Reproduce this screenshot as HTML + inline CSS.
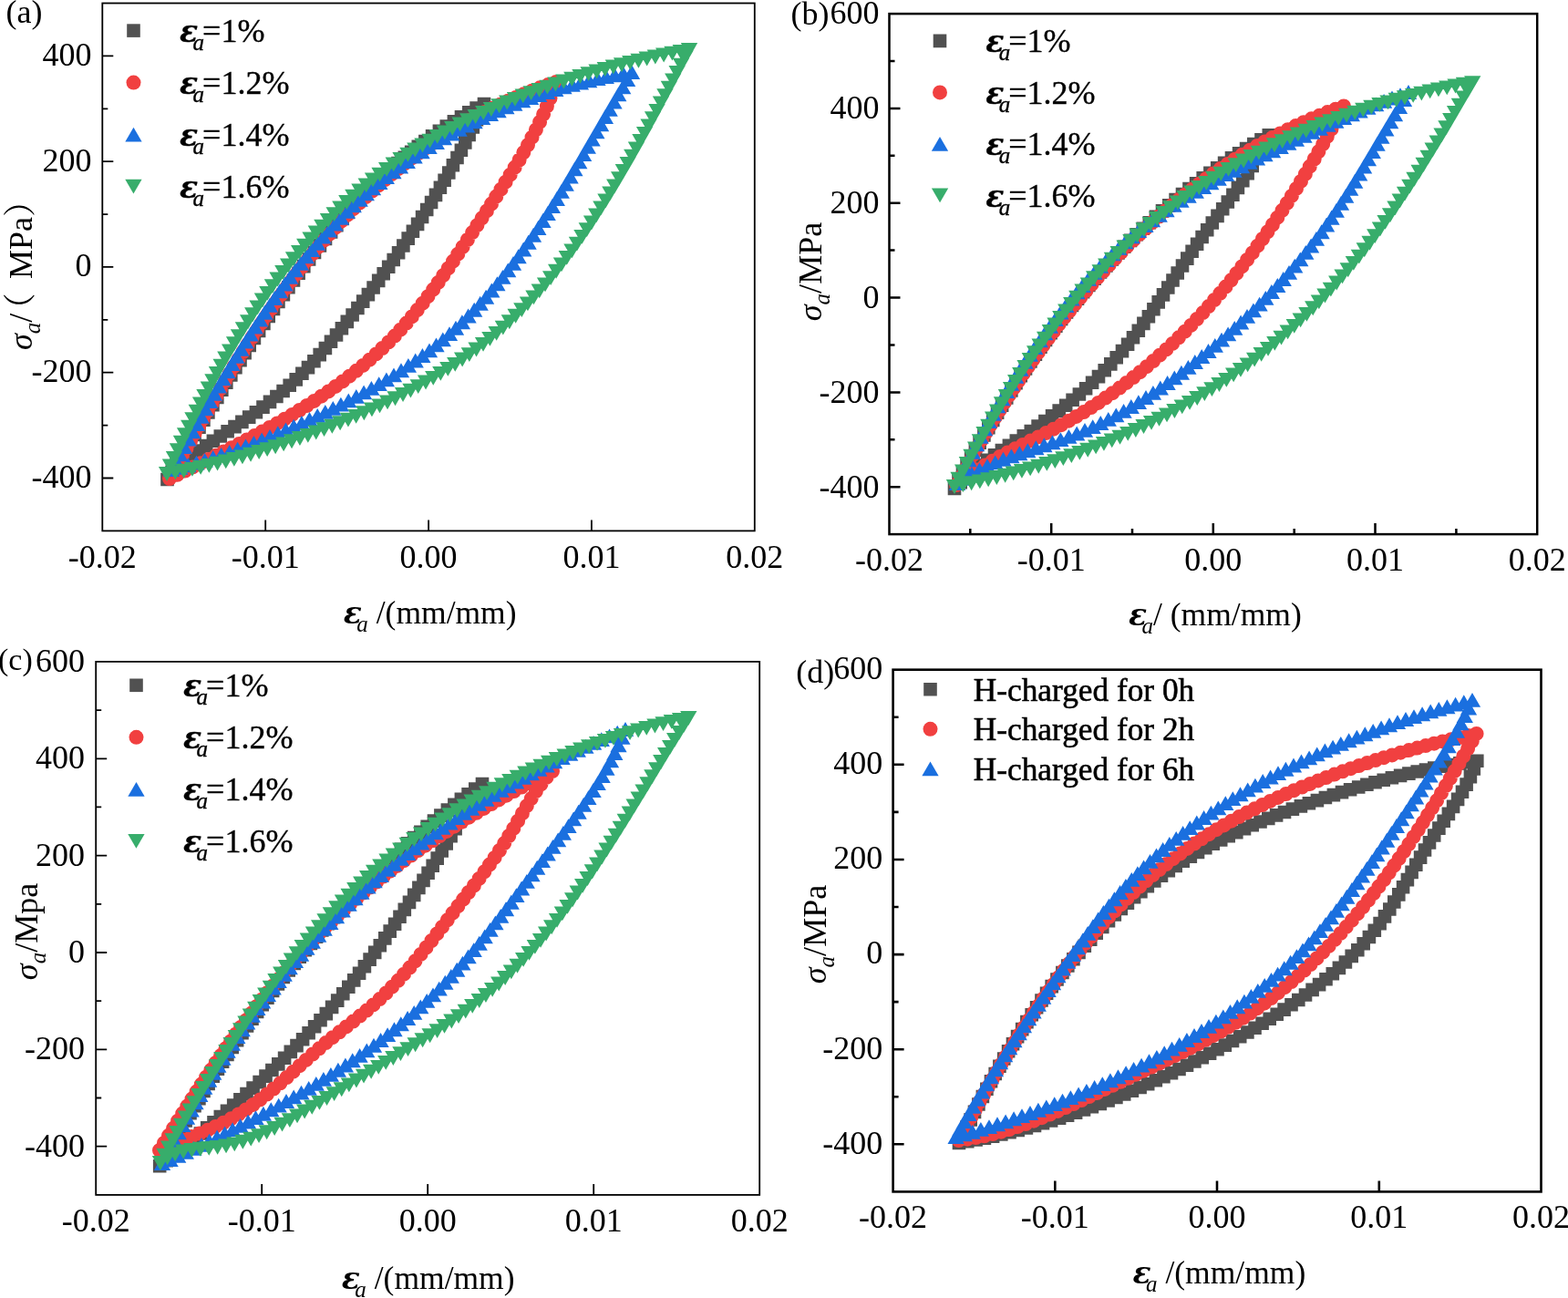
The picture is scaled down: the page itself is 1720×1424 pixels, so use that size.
<!DOCTYPE html>
<html><head><meta charset="utf-8"><title>Hysteresis loops</title>
<style>html,body{margin:0;padding:0;background:#fff;overflow:hidden}svg{display:block}</style></head>
<body>
<svg xmlns="http://www.w3.org/2000/svg" width="1720" height="1424" viewBox="0 0 1720 1424"><defs><clipPath id="clipa"><rect x="112.3" y="3.5" width="715.5" height="578.9"/></clipPath><clipPath id="clipb"><rect x="975.5" y="15.1" width="710.7" height="571.0"/></clipPath><clipPath id="clipc"><rect x="105.2" y="725.9" width="728.0" height="585.0000000000001"/></clipPath><clipPath id="clipd"><rect x="979.6" y="734.7" width="710.9" height="572.7"/></clipPath></defs>
<rect width="1720" height="1424" fill="#fff"/>
<g clip-path="url(#clipa)">
<path d="M176.2 518.7h14.6v14.6h-14.6zM181.3 510.6h14.6v14.6h-14.6zM186.3 502.4h14.6v14.6h-14.6zM191.3 494.2h14.6v14.6h-14.6zM196.3 486.0h14.6v14.6h-14.6zM201.2 477.8h14.6v14.6h-14.6zM206.2 469.7h14.6v14.6h-14.6zM211.2 461.5h14.6v14.6h-14.6zM216.1 453.3h14.6v14.6h-14.6zM221.1 445.1h14.6v14.6h-14.6zM226.1 436.9h14.6v14.6h-14.6zM231.0 428.7h14.6v14.6h-14.6zM236.0 420.5h14.6v14.6h-14.6zM241.0 412.3h14.6v14.6h-14.6zM246.0 404.2h14.6v14.6h-14.6zM251.1 396.0h14.6v14.6h-14.6zM256.2 387.9h14.6v14.6h-14.6zM261.3 379.8h14.6v14.6h-14.6zM266.4 371.7h14.6v14.6h-14.6zM271.6 363.6h14.6v14.6h-14.6zM276.8 355.6h14.6v14.6h-14.6zM282.1 347.6h14.6v14.6h-14.6zM287.4 339.6h14.6v14.6h-14.6zM292.7 331.6h14.6v14.6h-14.6zM298.1 323.7h14.6v14.6h-14.6zM303.6 315.9h14.6v14.6h-14.6zM309.1 308.0h14.6v14.6h-14.6zM314.7 300.2h14.6v14.6h-14.6zM320.3 292.5h14.6v14.6h-14.6zM326.0 284.8h14.6v14.6h-14.6zM331.8 277.2h14.6v14.6h-14.6zM337.7 269.6h14.6v14.6h-14.6zM343.6 262.1h14.6v14.6h-14.6zM349.7 254.6h14.6v14.6h-14.6zM355.8 247.2h14.6v14.6h-14.6zM362.0 239.9h14.6v14.6h-14.6zM368.3 232.7h14.6v14.6h-14.6zM374.6 225.6h14.6v14.6h-14.6zM381.1 218.5h14.6v14.6h-14.6zM387.7 211.5h14.6v14.6h-14.6zM394.4 204.6h14.6v14.6h-14.6zM401.1 197.9h14.6v14.6h-14.6zM408.0 191.2h14.6v14.6h-14.6zM415.0 184.6h14.6v14.6h-14.6zM422.1 178.2h14.6v14.6h-14.6zM429.2 171.8h14.6v14.6h-14.6zM436.5 165.6h14.6v14.6h-14.6zM443.9 159.5h14.6v14.6h-14.6zM451.5 153.6h14.6v14.6h-14.6zM459.1 147.8h14.6v14.6h-14.6zM466.8 142.1h14.6v14.6h-14.6zM474.6 136.6h14.6v14.6h-14.6zM482.5 131.2h14.6v14.6h-14.6zM490.6 126.0h14.6v14.6h-14.6zM498.7 120.9h14.6v14.6h-14.6zM507.0 116.0h14.6v14.6h-14.6zM515.3 111.3h14.6v14.6h-14.6zM523.7 106.7h14.6v14.6h-14.6zM523.7 106.7h14.6v14.6h-14.6zM519.7 115.3h14.6v14.6h-14.6zM515.7 123.8h14.6v14.6h-14.6zM511.5 132.2h14.6v14.6h-14.6zM507.3 140.7h14.6v14.6h-14.6zM503.0 149.1h14.6v14.6h-14.6zM498.6 157.4h14.6v14.6h-14.6zM494.2 165.7h14.6v14.6h-14.6zM489.6 174.0h14.6v14.6h-14.6zM485.0 182.2h14.6v14.6h-14.6zM480.3 190.4h14.6v14.6h-14.6zM475.6 198.5h14.6v14.6h-14.6zM470.7 206.6h14.6v14.6h-14.6zM465.8 214.7h14.6v14.6h-14.6zM460.9 222.7h14.6v14.6h-14.6zM455.8 230.7h14.6v14.6h-14.6zM450.8 238.6h14.6v14.6h-14.6zM445.6 246.5h14.6v14.6h-14.6zM440.4 254.3h14.6v14.6h-14.6zM435.1 262.2h14.6v14.6h-14.6zM429.8 269.9h14.6v14.6h-14.6zM424.4 277.7h14.6v14.6h-14.6zM418.9 285.4h14.6v14.6h-14.6zM413.4 293.0h14.6v14.6h-14.6zM407.9 300.6h14.6v14.6h-14.6zM402.3 308.2h14.6v14.6h-14.6zM396.6 315.8h14.6v14.6h-14.6zM390.9 323.3h14.6v14.6h-14.6zM385.1 330.7h14.6v14.6h-14.6zM379.3 338.2h14.6v14.6h-14.6zM373.5 345.6h14.6v14.6h-14.6zM367.6 352.9h14.6v14.6h-14.6zM361.7 360.2h14.6v14.6h-14.6zM355.7 367.5h14.6v14.6h-14.6zM349.6 374.7h14.6v14.6h-14.6zM343.4 381.8h14.6v14.6h-14.6zM337.1 388.9h14.6v14.6h-14.6zM330.7 395.8h14.6v14.6h-14.6zM324.1 402.5h14.6v14.6h-14.6zM317.4 409.1h14.6v14.6h-14.6zM310.4 415.5h14.6v14.6h-14.6zM303.3 421.7h14.6v14.6h-14.6zM296.1 427.7h14.6v14.6h-14.6zM288.7 433.6h14.6v14.6h-14.6zM281.2 439.3h14.6v14.6h-14.6zM273.6 444.9h14.6v14.6h-14.6zM265.9 450.3h14.6v14.6h-14.6zM258.1 455.6h14.6v14.6h-14.6zM250.2 460.8h14.6v14.6h-14.6zM242.3 466.0h14.6v14.6h-14.6zM234.5 471.2h14.6v14.6h-14.6zM226.6 476.4h14.6v14.6h-14.6zM218.9 481.8h14.6v14.6h-14.6zM211.2 487.3h14.6v14.6h-14.6zM203.7 493.0h14.6v14.6h-14.6zM196.4 498.9h14.6v14.6h-14.6zM189.4 505.2h14.6v14.6h-14.6zM182.6 511.8h14.6v14.6h-14.6zM176.2 518.7h14.6v14.6h-14.6z" fill="#515151"/>
<path d="M178.0 525.0a8.0 8.0 0 1 0 16.0 0a8.0 8.0 0 1 0 -16.0 0zM182.6 516.8a8.0 8.0 0 1 0 16.0 0a8.0 8.0 0 1 0 -16.0 0zM187.2 508.5a8.0 8.0 0 1 0 16.0 0a8.0 8.0 0 1 0 -16.0 0zM191.9 500.2a8.0 8.0 0 1 0 16.0 0a8.0 8.0 0 1 0 -16.0 0zM196.5 492.0a8.0 8.0 0 1 0 16.0 0a8.0 8.0 0 1 0 -16.0 0zM201.1 483.8a8.0 8.0 0 1 0 16.0 0a8.0 8.0 0 1 0 -16.0 0zM205.7 475.5a8.0 8.0 0 1 0 16.0 0a8.0 8.0 0 1 0 -16.0 0zM210.4 467.3a8.0 8.0 0 1 0 16.0 0a8.0 8.0 0 1 0 -16.0 0zM215.1 459.1a8.0 8.0 0 1 0 16.0 0a8.0 8.0 0 1 0 -16.0 0zM219.8 450.9a8.0 8.0 0 1 0 16.0 0a8.0 8.0 0 1 0 -16.0 0zM224.5 442.7a8.0 8.0 0 1 0 16.0 0a8.0 8.0 0 1 0 -16.0 0zM229.3 434.5a8.0 8.0 0 1 0 16.0 0a8.0 8.0 0 1 0 -16.0 0zM234.0 426.4a8.0 8.0 0 1 0 16.0 0a8.0 8.0 0 1 0 -16.0 0zM238.9 418.2a8.0 8.0 0 1 0 16.0 0a8.0 8.0 0 1 0 -16.0 0zM243.7 410.1a8.0 8.0 0 1 0 16.0 0a8.0 8.0 0 1 0 -16.0 0zM248.6 402.0a8.0 8.0 0 1 0 16.0 0a8.0 8.0 0 1 0 -16.0 0zM253.6 394.0a8.0 8.0 0 1 0 16.0 0a8.0 8.0 0 1 0 -16.0 0zM258.6 386.0a8.0 8.0 0 1 0 16.0 0a8.0 8.0 0 1 0 -16.0 0zM263.6 378.0a8.0 8.0 0 1 0 16.0 0a8.0 8.0 0 1 0 -16.0 0zM268.7 370.0a8.0 8.0 0 1 0 16.0 0a8.0 8.0 0 1 0 -16.0 0zM273.9 362.1a8.0 8.0 0 1 0 16.0 0a8.0 8.0 0 1 0 -16.0 0zM279.1 354.2a8.0 8.0 0 1 0 16.0 0a8.0 8.0 0 1 0 -16.0 0zM284.4 346.3a8.0 8.0 0 1 0 16.0 0a8.0 8.0 0 1 0 -16.0 0zM289.7 338.6a8.0 8.0 0 1 0 16.0 0a8.0 8.0 0 1 0 -16.0 0zM295.1 330.8a8.0 8.0 0 1 0 16.0 0a8.0 8.0 0 1 0 -16.0 0zM300.6 323.1a8.0 8.0 0 1 0 16.0 0a8.0 8.0 0 1 0 -16.0 0zM306.2 315.5a8.0 8.0 0 1 0 16.0 0a8.0 8.0 0 1 0 -16.0 0zM311.8 307.9a8.0 8.0 0 1 0 16.0 0a8.0 8.0 0 1 0 -16.0 0zM317.5 300.3a8.0 8.0 0 1 0 16.0 0a8.0 8.0 0 1 0 -16.0 0zM323.3 292.9a8.0 8.0 0 1 0 16.0 0a8.0 8.0 0 1 0 -16.0 0zM329.2 285.5a8.0 8.0 0 1 0 16.0 0a8.0 8.0 0 1 0 -16.0 0zM335.2 278.1a8.0 8.0 0 1 0 16.0 0a8.0 8.0 0 1 0 -16.0 0zM341.2 270.9a8.0 8.0 0 1 0 16.0 0a8.0 8.0 0 1 0 -16.0 0zM347.4 263.7a8.0 8.0 0 1 0 16.0 0a8.0 8.0 0 1 0 -16.0 0zM353.6 256.6a8.0 8.0 0 1 0 16.0 0a8.0 8.0 0 1 0 -16.0 0zM360.0 249.6a8.0 8.0 0 1 0 16.0 0a8.0 8.0 0 1 0 -16.0 0zM366.4 242.7a8.0 8.0 0 1 0 16.0 0a8.0 8.0 0 1 0 -16.0 0zM373.0 235.9a8.0 8.0 0 1 0 16.0 0a8.0 8.0 0 1 0 -16.0 0zM379.6 229.2a8.0 8.0 0 1 0 16.0 0a8.0 8.0 0 1 0 -16.0 0zM386.4 222.5a8.0 8.0 0 1 0 16.0 0a8.0 8.0 0 1 0 -16.0 0zM393.2 216.0a8.0 8.0 0 1 0 16.0 0a8.0 8.0 0 1 0 -16.0 0zM400.2 209.6a8.0 8.0 0 1 0 16.0 0a8.0 8.0 0 1 0 -16.0 0zM407.2 203.3a8.0 8.0 0 1 0 16.0 0a8.0 8.0 0 1 0 -16.0 0zM414.3 197.1a8.0 8.0 0 1 0 16.0 0a8.0 8.0 0 1 0 -16.0 0zM421.6 191.0a8.0 8.0 0 1 0 16.0 0a8.0 8.0 0 1 0 -16.0 0zM428.9 185.0a8.0 8.0 0 1 0 16.0 0a8.0 8.0 0 1 0 -16.0 0zM436.3 179.2a8.0 8.0 0 1 0 16.0 0a8.0 8.0 0 1 0 -16.0 0zM443.8 173.4a8.0 8.0 0 1 0 16.0 0a8.0 8.0 0 1 0 -16.0 0zM451.4 167.8a8.0 8.0 0 1 0 16.0 0a8.0 8.0 0 1 0 -16.0 0zM459.1 162.3a8.0 8.0 0 1 0 16.0 0a8.0 8.0 0 1 0 -16.0 0zM466.9 157.0a8.0 8.0 0 1 0 16.0 0a8.0 8.0 0 1 0 -16.0 0zM474.8 151.7a8.0 8.0 0 1 0 16.0 0a8.0 8.0 0 1 0 -16.0 0zM482.7 146.6a8.0 8.0 0 1 0 16.0 0a8.0 8.0 0 1 0 -16.0 0zM490.8 141.6a8.0 8.0 0 1 0 16.0 0a8.0 8.0 0 1 0 -16.0 0zM498.9 136.8a8.0 8.0 0 1 0 16.0 0a8.0 8.0 0 1 0 -16.0 0zM507.1 132.1a8.0 8.0 0 1 0 16.0 0a8.0 8.0 0 1 0 -16.0 0zM515.4 127.5a8.0 8.0 0 1 0 16.0 0a8.0 8.0 0 1 0 -16.0 0zM523.7 123.1a8.0 8.0 0 1 0 16.0 0a8.0 8.0 0 1 0 -16.0 0zM532.2 118.8a8.0 8.0 0 1 0 16.0 0a8.0 8.0 0 1 0 -16.0 0zM540.7 114.7a8.0 8.0 0 1 0 16.0 0a8.0 8.0 0 1 0 -16.0 0zM549.3 110.7a8.0 8.0 0 1 0 16.0 0a8.0 8.0 0 1 0 -16.0 0zM557.9 106.9a8.0 8.0 0 1 0 16.0 0a8.0 8.0 0 1 0 -16.0 0zM566.6 103.2a8.0 8.0 0 1 0 16.0 0a8.0 8.0 0 1 0 -16.0 0zM575.4 99.7a8.0 8.0 0 1 0 16.0 0a8.0 8.0 0 1 0 -16.0 0zM584.2 96.3a8.0 8.0 0 1 0 16.0 0a8.0 8.0 0 1 0 -16.0 0zM593.1 93.1a8.0 8.0 0 1 0 16.0 0a8.0 8.0 0 1 0 -16.0 0zM602.0 90.0a8.0 8.0 0 1 0 16.0 0a8.0 8.0 0 1 0 -16.0 0zM602.0 90.0a8.0 8.0 0 1 0 16.0 0a8.0 8.0 0 1 0 -16.0 0zM598.9 99.0a8.0 8.0 0 1 0 16.0 0a8.0 8.0 0 1 0 -16.0 0zM595.5 107.8a8.0 8.0 0 1 0 16.0 0a8.0 8.0 0 1 0 -16.0 0zM591.9 116.6a8.0 8.0 0 1 0 16.0 0a8.0 8.0 0 1 0 -16.0 0zM588.1 125.3a8.0 8.0 0 1 0 16.0 0a8.0 8.0 0 1 0 -16.0 0zM584.1 133.8a8.0 8.0 0 1 0 16.0 0a8.0 8.0 0 1 0 -16.0 0zM579.9 142.3a8.0 8.0 0 1 0 16.0 0a8.0 8.0 0 1 0 -16.0 0zM575.5 150.7a8.0 8.0 0 1 0 16.0 0a8.0 8.0 0 1 0 -16.0 0zM571.0 159.1a8.0 8.0 0 1 0 16.0 0a8.0 8.0 0 1 0 -16.0 0zM566.3 167.3a8.0 8.0 0 1 0 16.0 0a8.0 8.0 0 1 0 -16.0 0zM561.6 175.5a8.0 8.0 0 1 0 16.0 0a8.0 8.0 0 1 0 -16.0 0zM556.7 183.6a8.0 8.0 0 1 0 16.0 0a8.0 8.0 0 1 0 -16.0 0zM551.7 191.7a8.0 8.0 0 1 0 16.0 0a8.0 8.0 0 1 0 -16.0 0zM546.6 199.7a8.0 8.0 0 1 0 16.0 0a8.0 8.0 0 1 0 -16.0 0zM541.5 207.7a8.0 8.0 0 1 0 16.0 0a8.0 8.0 0 1 0 -16.0 0zM536.3 215.6a8.0 8.0 0 1 0 16.0 0a8.0 8.0 0 1 0 -16.0 0zM531.1 223.6a8.0 8.0 0 1 0 16.0 0a8.0 8.0 0 1 0 -16.0 0zM525.9 231.4a8.0 8.0 0 1 0 16.0 0a8.0 8.0 0 1 0 -16.0 0zM520.6 239.3a8.0 8.0 0 1 0 16.0 0a8.0 8.0 0 1 0 -16.0 0zM515.4 247.2a8.0 8.0 0 1 0 16.0 0a8.0 8.0 0 1 0 -16.0 0zM510.1 255.1a8.0 8.0 0 1 0 16.0 0a8.0 8.0 0 1 0 -16.0 0zM504.9 263.0a8.0 8.0 0 1 0 16.0 0a8.0 8.0 0 1 0 -16.0 0zM499.6 270.9a8.0 8.0 0 1 0 16.0 0a8.0 8.0 0 1 0 -16.0 0zM494.3 278.7a8.0 8.0 0 1 0 16.0 0a8.0 8.0 0 1 0 -16.0 0zM489.0 286.6a8.0 8.0 0 1 0 16.0 0a8.0 8.0 0 1 0 -16.0 0zM483.6 294.4a8.0 8.0 0 1 0 16.0 0a8.0 8.0 0 1 0 -16.0 0zM478.2 302.2a8.0 8.0 0 1 0 16.0 0a8.0 8.0 0 1 0 -16.0 0zM472.7 309.9a8.0 8.0 0 1 0 16.0 0a8.0 8.0 0 1 0 -16.0 0zM467.2 317.6a8.0 8.0 0 1 0 16.0 0a8.0 8.0 0 1 0 -16.0 0zM461.5 325.2a8.0 8.0 0 1 0 16.0 0a8.0 8.0 0 1 0 -16.0 0zM455.7 332.7a8.0 8.0 0 1 0 16.0 0a8.0 8.0 0 1 0 -16.0 0zM449.8 340.1a8.0 8.0 0 1 0 16.0 0a8.0 8.0 0 1 0 -16.0 0zM443.8 347.4a8.0 8.0 0 1 0 16.0 0a8.0 8.0 0 1 0 -16.0 0zM437.7 354.6a8.0 8.0 0 1 0 16.0 0a8.0 8.0 0 1 0 -16.0 0zM431.3 361.7a8.0 8.0 0 1 0 16.0 0a8.0 8.0 0 1 0 -16.0 0zM424.9 368.6a8.0 8.0 0 1 0 16.0 0a8.0 8.0 0 1 0 -16.0 0zM418.2 375.4a8.0 8.0 0 1 0 16.0 0a8.0 8.0 0 1 0 -16.0 0zM411.4 382.0a8.0 8.0 0 1 0 16.0 0a8.0 8.0 0 1 0 -16.0 0zM404.5 388.4a8.0 8.0 0 1 0 16.0 0a8.0 8.0 0 1 0 -16.0 0zM397.4 394.7a8.0 8.0 0 1 0 16.0 0a8.0 8.0 0 1 0 -16.0 0zM390.2 400.9a8.0 8.0 0 1 0 16.0 0a8.0 8.0 0 1 0 -16.0 0zM382.8 406.8a8.0 8.0 0 1 0 16.0 0a8.0 8.0 0 1 0 -16.0 0zM375.3 412.7a8.0 8.0 0 1 0 16.0 0a8.0 8.0 0 1 0 -16.0 0zM367.8 418.4a8.0 8.0 0 1 0 16.0 0a8.0 8.0 0 1 0 -16.0 0zM360.1 423.9a8.0 8.0 0 1 0 16.0 0a8.0 8.0 0 1 0 -16.0 0zM352.3 429.4a8.0 8.0 0 1 0 16.0 0a8.0 8.0 0 1 0 -16.0 0zM344.5 434.7a8.0 8.0 0 1 0 16.0 0a8.0 8.0 0 1 0 -16.0 0zM336.6 439.9a8.0 8.0 0 1 0 16.0 0a8.0 8.0 0 1 0 -16.0 0zM328.6 445.0a8.0 8.0 0 1 0 16.0 0a8.0 8.0 0 1 0 -16.0 0zM320.5 450.0a8.0 8.0 0 1 0 16.0 0a8.0 8.0 0 1 0 -16.0 0zM312.4 454.9a8.0 8.0 0 1 0 16.0 0a8.0 8.0 0 1 0 -16.0 0zM304.2 459.7a8.0 8.0 0 1 0 16.0 0a8.0 8.0 0 1 0 -16.0 0zM296.0 464.4a8.0 8.0 0 1 0 16.0 0a8.0 8.0 0 1 0 -16.0 0zM287.7 469.0a8.0 8.0 0 1 0 16.0 0a8.0 8.0 0 1 0 -16.0 0zM279.4 473.6a8.0 8.0 0 1 0 16.0 0a8.0 8.0 0 1 0 -16.0 0zM271.1 478.1a8.0 8.0 0 1 0 16.0 0a8.0 8.0 0 1 0 -16.0 0zM262.7 482.5a8.0 8.0 0 1 0 16.0 0a8.0 8.0 0 1 0 -16.0 0zM254.3 486.9a8.0 8.0 0 1 0 16.0 0a8.0 8.0 0 1 0 -16.0 0zM245.9 491.2a8.0 8.0 0 1 0 16.0 0a8.0 8.0 0 1 0 -16.0 0zM237.4 495.5a8.0 8.0 0 1 0 16.0 0a8.0 8.0 0 1 0 -16.0 0zM229.0 499.8a8.0 8.0 0 1 0 16.0 0a8.0 8.0 0 1 0 -16.0 0zM220.5 504.0a8.0 8.0 0 1 0 16.0 0a8.0 8.0 0 1 0 -16.0 0zM212.0 508.2a8.0 8.0 0 1 0 16.0 0a8.0 8.0 0 1 0 -16.0 0zM203.5 512.4a8.0 8.0 0 1 0 16.0 0a8.0 8.0 0 1 0 -16.0 0zM195.0 516.6a8.0 8.0 0 1 0 16.0 0a8.0 8.0 0 1 0 -16.0 0zM186.5 520.8a8.0 8.0 0 1 0 16.0 0a8.0 8.0 0 1 0 -16.0 0zM178.0 525.0a8.0 8.0 0 1 0 16.0 0a8.0 8.0 0 1 0 -16.0 0z" fill="#F14040"/>
<path d="M188.0 507.1l9.15 15.85h-18.3zM192.7 498.8l9.15 15.85h-18.3zM197.3 490.4l9.15 15.85h-18.3zM202.0 482.1l9.15 15.85h-18.3zM206.7 473.7l9.15 15.85h-18.3zM211.3 465.4l9.15 15.85h-18.3zM216.0 457.1l9.15 15.85h-18.3zM220.7 448.8l9.15 15.85h-18.3zM225.4 440.5l9.15 15.85h-18.3zM230.2 432.2l9.15 15.85h-18.3zM235.0 423.9l9.15 15.85h-18.3zM239.8 415.7l9.15 15.85h-18.3zM244.6 407.5l9.15 15.85h-18.3zM249.5 399.3l9.15 15.85h-18.3zM254.4 391.1l9.15 15.85h-18.3zM259.4 382.9l9.15 15.85h-18.3zM264.4 374.8l9.15 15.85h-18.3zM269.5 366.7l9.15 15.85h-18.3zM274.6 358.7l9.15 15.85h-18.3zM279.8 350.7l9.15 15.85h-18.3zM285.1 342.7l9.15 15.85h-18.3zM290.4 334.8l9.15 15.85h-18.3zM295.8 326.9l9.15 15.85h-18.3zM301.3 319.1l9.15 15.85h-18.3zM306.9 311.3l9.15 15.85h-18.3zM312.5 303.6l9.15 15.85h-18.3zM318.2 296.0l9.15 15.85h-18.3zM324.0 288.4l9.15 15.85h-18.3zM329.9 280.9l9.15 15.85h-18.3zM335.9 273.5l9.15 15.85h-18.3zM342.0 266.1l9.15 15.85h-18.3zM348.2 258.9l9.15 15.85h-18.3zM354.5 251.7l9.15 15.85h-18.3zM361.0 244.6l9.15 15.85h-18.3zM367.5 237.7l9.15 15.85h-18.3zM374.1 230.8l9.15 15.85h-18.3zM380.9 224.0l9.15 15.85h-18.3zM387.7 217.4l9.15 15.85h-18.3zM394.7 210.9l9.15 15.85h-18.3zM401.8 204.5l9.15 15.85h-18.3zM409.0 198.3l9.15 15.85h-18.3zM416.4 192.1l9.15 15.85h-18.3zM423.8 186.2l9.15 15.85h-18.3zM431.4 180.3l9.15 15.85h-18.3zM439.0 174.6l9.15 15.85h-18.3zM446.8 169.1l9.15 15.85h-18.3zM454.6 163.6l9.15 15.85h-18.3zM462.6 158.3l9.15 15.85h-18.3zM470.6 153.2l9.15 15.85h-18.3zM478.8 148.2l9.15 15.85h-18.3zM487.0 143.3l9.15 15.85h-18.3zM495.3 138.6l9.15 15.85h-18.3zM503.6 134.0l9.15 15.85h-18.3zM512.1 129.6l9.15 15.85h-18.3zM520.6 125.3l9.15 15.85h-18.3zM529.2 121.1l9.15 15.85h-18.3zM537.9 117.1l9.15 15.85h-18.3zM546.6 113.3l9.15 15.85h-18.3zM555.4 109.5l9.15 15.85h-18.3zM564.3 106.0l9.15 15.85h-18.3zM573.2 102.5l9.15 15.85h-18.3zM582.1 99.2l9.15 15.85h-18.3zM591.2 96.1l9.15 15.85h-18.3zM600.2 93.1l9.15 15.85h-18.3zM609.3 90.2l9.15 15.85h-18.3zM618.5 87.5l9.15 15.85h-18.3zM627.7 85.0l9.15 15.85h-18.3zM636.9 82.6l9.15 15.85h-18.3zM646.2 80.3l9.15 15.85h-18.3zM655.5 78.2l9.15 15.85h-18.3zM664.8 76.2l9.15 15.85h-18.3zM674.2 74.3l9.15 15.85h-18.3zM683.6 72.6l9.15 15.85h-18.3zM693.0 71.1l9.15 15.85h-18.3zM693.0 71.1l9.15 15.85h-18.3zM688.1 79.2l9.15 15.85h-18.3zM683.2 87.3l9.15 15.85h-18.3zM678.3 95.5l9.15 15.85h-18.3zM673.5 103.7l9.15 15.85h-18.3zM668.7 111.9l9.15 15.85h-18.3zM663.9 120.1l9.15 15.85h-18.3zM659.1 128.3l9.15 15.85h-18.3zM654.4 136.5l9.15 15.85h-18.3zM649.6 144.7l9.15 15.85h-18.3zM644.8 153.0l9.15 15.85h-18.3zM640.1 161.2l9.15 15.85h-18.3zM635.3 169.4l9.15 15.85h-18.3zM630.4 177.5l9.15 15.85h-18.3zM625.6 185.7l9.15 15.85h-18.3zM620.7 193.9l9.15 15.85h-18.3zM615.8 202.0l9.15 15.85h-18.3zM610.8 210.1l9.15 15.85h-18.3zM605.8 218.1l9.15 15.85h-18.3zM600.7 226.2l9.15 15.85h-18.3zM595.5 234.1l9.15 15.85h-18.3zM590.3 242.1l9.15 15.85h-18.3zM585.0 250.0l9.15 15.85h-18.3zM579.6 257.8l9.15 15.85h-18.3zM574.2 265.6l9.15 15.85h-18.3zM568.6 273.3l9.15 15.85h-18.3zM563.0 280.9l9.15 15.85h-18.3zM557.2 288.5l9.15 15.85h-18.3zM551.4 295.9l9.15 15.85h-18.3zM545.4 303.3l9.15 15.85h-18.3zM539.3 310.6l9.15 15.85h-18.3zM533.1 317.8l9.15 15.85h-18.3zM526.7 324.8l9.15 15.85h-18.3zM520.2 331.8l9.15 15.85h-18.3zM513.6 338.6l9.15 15.85h-18.3zM506.9 345.3l9.15 15.85h-18.3zM500.0 351.8l9.15 15.85h-18.3zM493.0 358.2l9.15 15.85h-18.3zM485.8 364.4l9.15 15.85h-18.3zM478.5 370.5l9.15 15.85h-18.3zM471.0 376.4l9.15 15.85h-18.3zM463.4 382.1l9.15 15.85h-18.3zM455.7 387.6l9.15 15.85h-18.3zM447.9 393.0l9.15 15.85h-18.3zM440.0 398.3l9.15 15.85h-18.3zM432.0 403.4l9.15 15.85h-18.3zM423.9 408.4l9.15 15.85h-18.3zM415.7 413.2l9.15 15.85h-18.3zM407.4 417.9l9.15 15.85h-18.3zM399.1 422.5l9.15 15.85h-18.3zM390.8 427.0l9.15 15.85h-18.3zM382.3 431.4l9.15 15.85h-18.3zM373.9 435.7l9.15 15.85h-18.3zM365.3 439.9l9.15 15.85h-18.3zM356.8 444.0l9.15 15.85h-18.3zM348.2 448.0l9.15 15.85h-18.3zM339.5 452.0l9.15 15.85h-18.3zM330.9 455.9l9.15 15.85h-18.3zM322.2 459.7l9.15 15.85h-18.3zM313.5 463.5l9.15 15.85h-18.3zM304.8 467.3l9.15 15.85h-18.3zM296.0 470.9l9.15 15.85h-18.3zM287.2 474.5l9.15 15.85h-18.3zM278.4 478.0l9.15 15.85h-18.3zM269.5 481.4l9.15 15.85h-18.3zM260.6 484.7l9.15 15.85h-18.3zM251.7 488.0l9.15 15.85h-18.3zM242.7 491.1l9.15 15.85h-18.3zM233.7 494.1l9.15 15.85h-18.3zM224.6 496.9l9.15 15.85h-18.3zM215.5 499.7l9.15 15.85h-18.3zM206.4 502.3l9.15 15.85h-18.3zM197.2 504.8l9.15 15.85h-18.3zM188.0 507.1l9.15 15.85h-18.3z" fill="#1A6FDF"/>
<path d="M173.9 512.1h18.3l-9.15 15.85zM177.8 503.5h18.3l-9.15 15.85zM181.8 494.9h18.3l-9.15 15.85zM185.8 486.3h18.3l-9.15 15.85zM189.8 477.8h18.3l-9.15 15.85zM193.9 469.2h18.3l-9.15 15.85zM198.1 460.7h18.3l-9.15 15.85zM202.3 452.2h18.3l-9.15 15.85zM206.6 443.8h18.3l-9.15 15.85zM210.9 435.4h18.3l-9.15 15.85zM215.3 427.0h18.3l-9.15 15.85zM219.7 418.6h18.3l-9.15 15.85zM224.3 410.3h18.3l-9.15 15.85zM228.8 402.0h18.3l-9.15 15.85zM233.5 393.8h18.3l-9.15 15.85zM238.2 385.6h18.3l-9.15 15.85zM243.0 377.4h18.3l-9.15 15.85zM247.9 369.3h18.3l-9.15 15.85zM252.8 361.2h18.3l-9.15 15.85zM257.8 353.2h18.3l-9.15 15.85zM263.0 345.2h18.3l-9.15 15.85zM268.1 337.3h18.3l-9.15 15.85zM273.4 329.4h18.3l-9.15 15.85zM278.8 321.6h18.3l-9.15 15.85zM284.2 313.9h18.3l-9.15 15.85zM289.8 306.2h18.3l-9.15 15.85zM295.4 298.6h18.3l-9.15 15.85zM301.2 291.1h18.3l-9.15 15.85zM307.0 283.6h18.3l-9.15 15.85zM312.9 276.3h18.3l-9.15 15.85zM319.0 269.0h18.3l-9.15 15.85zM325.1 261.8h18.3l-9.15 15.85zM331.4 254.6h18.3l-9.15 15.85zM337.7 247.6h18.3l-9.15 15.85zM344.2 240.7h18.3l-9.15 15.85zM350.8 233.9h18.3l-9.15 15.85zM357.5 227.2h18.3l-9.15 15.85zM364.2 220.6h18.3l-9.15 15.85zM371.2 214.1h18.3l-9.15 15.85zM378.2 207.8h18.3l-9.15 15.85zM385.3 201.5h18.3l-9.15 15.85zM392.6 195.5h18.3l-9.15 15.85zM399.9 189.5h18.3l-9.15 15.85zM407.4 183.7h18.3l-9.15 15.85zM415.0 178.0h18.3l-9.15 15.85zM422.6 172.5h18.3l-9.15 15.85zM430.4 167.1h18.3l-9.15 15.85zM438.3 161.8h18.3l-9.15 15.85zM446.2 156.6h18.3l-9.15 15.85zM454.3 151.6h18.3l-9.15 15.85zM462.4 146.7h18.3l-9.15 15.85zM470.6 142.0h18.3l-9.15 15.85zM478.8 137.4h18.3l-9.15 15.85zM487.1 132.9h18.3l-9.15 15.85zM495.5 128.5h18.3l-9.15 15.85zM504.0 124.2h18.3l-9.15 15.85zM512.5 120.1h18.3l-9.15 15.85zM521.1 116.0h18.3l-9.15 15.85zM529.7 112.1h18.3l-9.15 15.85zM538.4 108.3h18.3l-9.15 15.85zM547.1 104.6h18.3l-9.15 15.85zM555.8 101.0h18.3l-9.15 15.85zM564.6 97.5h18.3l-9.15 15.85zM573.5 94.2h18.3l-9.15 15.85zM582.4 90.9h18.3l-9.15 15.85zM591.3 87.7h18.3l-9.15 15.85zM600.2 84.6h18.3l-9.15 15.85zM609.2 81.6h18.3l-9.15 15.85zM618.2 78.8h18.3l-9.15 15.85zM627.3 76.0h18.3l-9.15 15.85zM636.4 73.2h18.3l-9.15 15.85zM645.4 70.6h18.3l-9.15 15.85zM654.6 68.1h18.3l-9.15 15.85zM663.7 65.6h18.3l-9.15 15.85zM672.9 63.3h18.3l-9.15 15.85zM682.1 61.0h18.3l-9.15 15.85zM691.3 58.8h18.3l-9.15 15.85zM700.5 56.6h18.3l-9.15 15.85zM709.7 54.6h18.3l-9.15 15.85zM719.0 52.6h18.3l-9.15 15.85zM728.3 50.7h18.3l-9.15 15.85zM737.6 48.9h18.3l-9.15 15.85zM746.9 47.1h18.3l-9.15 15.85zM746.8 47.1h18.3l-9.15 15.85zM742.4 55.4h18.3l-9.15 15.85zM737.9 63.8h18.3l-9.15 15.85zM733.5 72.1h18.3l-9.15 15.85zM729.1 80.5h18.3l-9.15 15.85zM724.7 88.8h18.3l-9.15 15.85zM720.3 97.2h18.3l-9.15 15.85zM715.8 105.5h18.3l-9.15 15.85zM711.4 113.9h18.3l-9.15 15.85zM706.9 122.2h18.3l-9.15 15.85zM702.4 130.5h18.3l-9.15 15.85zM697.9 138.9h18.3l-9.15 15.85zM693.3 147.1h18.3l-9.15 15.85zM688.8 155.4h18.3l-9.15 15.85zM684.1 163.7h18.3l-9.15 15.85zM679.5 171.9h18.3l-9.15 15.85zM674.7 180.1h18.3l-9.15 15.85zM670.0 188.2h18.3l-9.15 15.85zM665.1 196.4h18.3l-9.15 15.85zM660.2 204.4h18.3l-9.15 15.85zM655.3 212.5h18.3l-9.15 15.85zM650.2 220.5h18.3l-9.15 15.85zM645.1 228.5h18.3l-9.15 15.85zM639.9 236.4h18.3l-9.15 15.85zM634.6 244.2h18.3l-9.15 15.85zM629.3 252.0h18.3l-9.15 15.85zM623.8 259.7h18.3l-9.15 15.85zM618.3 267.4h18.3l-9.15 15.85zM612.6 274.9h18.3l-9.15 15.85zM606.8 282.4h18.3l-9.15 15.85zM601.0 289.8h18.3l-9.15 15.85zM595.0 297.2h18.3l-9.15 15.85zM588.9 304.4h18.3l-9.15 15.85zM582.6 311.5h18.3l-9.15 15.85zM576.3 318.5h18.3l-9.15 15.85zM569.8 325.4h18.3l-9.15 15.85zM563.2 332.2h18.3l-9.15 15.85zM556.5 338.8h18.3l-9.15 15.85zM549.7 345.3h18.3l-9.15 15.85zM542.7 351.7h18.3l-9.15 15.85zM535.5 357.9h18.3l-9.15 15.85zM528.3 364.0h18.3l-9.15 15.85zM520.9 369.9h18.3l-9.15 15.85zM513.4 375.6h18.3l-9.15 15.85zM505.7 381.2h18.3l-9.15 15.85zM498.0 386.6h18.3l-9.15 15.85zM490.1 391.9h18.3l-9.15 15.85zM482.2 397.0h18.3l-9.15 15.85zM474.2 402.0h18.3l-9.15 15.85zM466.1 406.9h18.3l-9.15 15.85zM457.9 411.6h18.3l-9.15 15.85zM449.6 416.2h18.3l-9.15 15.85zM441.3 420.7h18.3l-9.15 15.85zM432.9 425.1h18.3l-9.15 15.85zM424.4 429.3h18.3l-9.15 15.85zM415.9 433.5h18.3l-9.15 15.85zM407.4 437.5h18.3l-9.15 15.85zM398.8 441.4h18.3l-9.15 15.85zM390.2 445.3h18.3l-9.15 15.85zM381.5 449.0h18.3l-9.15 15.85zM372.8 452.7h18.3l-9.15 15.85zM364.0 456.3h18.3l-9.15 15.85zM355.2 459.8h18.3l-9.15 15.85zM346.4 463.2h18.3l-9.15 15.85zM337.6 466.6h18.3l-9.15 15.85zM328.7 469.9h18.3l-9.15 15.85zM319.8 473.1h18.3l-9.15 15.85zM310.9 476.3h18.3l-9.15 15.85zM302.0 479.4h18.3l-9.15 15.85zM293.0 482.3h18.3l-9.15 15.85zM284.0 485.2h18.3l-9.15 15.85zM275.0 488.1h18.3l-9.15 15.85zM265.9 490.8h18.3l-9.15 15.85zM256.8 493.4h18.3l-9.15 15.85zM247.7 495.9h18.3l-9.15 15.85zM238.6 498.4h18.3l-9.15 15.85zM229.4 500.7h18.3l-9.15 15.85zM220.2 502.9h18.3l-9.15 15.85zM211.0 505.0h18.3l-9.15 15.85zM201.8 506.9h18.3l-9.15 15.85zM192.5 508.8h18.3l-9.15 15.85zM183.2 510.5h18.3l-9.15 15.85zM173.9 512.1h18.3l-9.15 15.85z" fill="#37AD6B"/>
</g>
<rect x="112.3" y="3.5" width="715.5" height="578.9" fill="none" stroke="#000" stroke-width="1.8"/>
<path d="M112.3 524.5h12M112.3 466.6h6M112.3 408.7h12M112.3 350.8h6M112.3 292.9h12M112.3 235.1h6M112.3 177.2h12M112.3 119.3h6M112.3 61.4h12M291.2 582.4v-12M470.1 582.4v-12M648.9 582.4v-12" stroke="#000" stroke-width="1.8" fill="none"/>
<g clip-path="url(#clipb)">
<path d="M1039.7 528.7h14.6v14.6h-14.6zM1044.2 520.3h14.6v14.6h-14.6zM1048.7 511.8h14.6v14.6h-14.6zM1053.3 503.4h14.6v14.6h-14.6zM1057.9 495.1h14.6v14.6h-14.6zM1062.6 486.7h14.6v14.6h-14.6zM1067.3 478.4h14.6v14.6h-14.6zM1072.1 470.1h14.6v14.6h-14.6zM1077.0 461.9h14.6v14.6h-14.6zM1081.9 453.6h14.6v14.6h-14.6zM1086.8 445.4h14.6v14.6h-14.6zM1091.8 437.3h14.6v14.6h-14.6zM1096.9 429.2h14.6v14.6h-14.6zM1102.0 421.1h14.6v14.6h-14.6zM1107.2 413.0h14.6v14.6h-14.6zM1112.4 405.0h14.6v14.6h-14.6zM1117.7 397.1h14.6v14.6h-14.6zM1123.1 389.2h14.6v14.6h-14.6zM1128.6 381.3h14.6v14.6h-14.6zM1134.1 373.5h14.6v14.6h-14.6zM1139.7 365.7h14.6v14.6h-14.6zM1145.3 358.0h14.6v14.6h-14.6zM1151.0 350.3h14.6v14.6h-14.6zM1156.8 342.7h14.6v14.6h-14.6zM1162.7 335.2h14.6v14.6h-14.6zM1168.7 327.7h14.6v14.6h-14.6zM1174.7 320.3h14.6v14.6h-14.6zM1180.8 312.9h14.6v14.6h-14.6zM1187.0 305.6h14.6v14.6h-14.6zM1193.3 298.4h14.6v14.6h-14.6zM1199.7 291.2h14.6v14.6h-14.6zM1206.1 284.2h14.6v14.6h-14.6zM1212.6 277.2h14.6v14.6h-14.6zM1219.2 270.2h14.6v14.6h-14.6zM1225.9 263.4h14.6v14.6h-14.6zM1232.7 256.6h14.6v14.6h-14.6zM1239.5 250.0h14.6v14.6h-14.6zM1246.5 243.4h14.6v14.6h-14.6zM1253.5 236.9h14.6v14.6h-14.6zM1260.6 230.4h14.6v14.6h-14.6zM1267.7 224.1h14.6v14.6h-14.6zM1275.0 217.9h14.6v14.6h-14.6zM1282.3 211.7h14.6v14.6h-14.6zM1289.7 205.7h14.6v14.6h-14.6zM1297.2 199.7h14.6v14.6h-14.6zM1304.8 193.9h14.6v14.6h-14.6zM1312.4 188.1h14.6v14.6h-14.6zM1320.1 182.5h14.6v14.6h-14.6zM1327.9 176.9h14.6v14.6h-14.6zM1335.8 171.5h14.6v14.6h-14.6zM1343.7 166.1h14.6v14.6h-14.6zM1351.8 160.9h14.6v14.6h-14.6zM1359.8 155.8h14.6v14.6h-14.6zM1368.0 150.8h14.6v14.6h-14.6zM1376.2 145.9h14.6v14.6h-14.6zM1384.5 141.1h14.6v14.6h-14.6zM1384.5 141.1h14.6v14.6h-14.6zM1380.4 149.7h14.6v14.6h-14.6zM1376.0 158.2h14.6v14.6h-14.6zM1371.3 166.5h14.6v14.6h-14.6zM1366.4 174.7h14.6v14.6h-14.6zM1361.3 182.8h14.6v14.6h-14.6zM1356.0 190.8h14.6v14.6h-14.6zM1350.6 198.6h14.6v14.6h-14.6zM1345.1 206.4h14.6v14.6h-14.6zM1339.5 214.2h14.6v14.6h-14.6zM1333.9 221.9h14.6v14.6h-14.6zM1328.2 229.6h14.6v14.6h-14.6zM1322.5 237.2h14.6v14.6h-14.6zM1316.9 244.9h14.6v14.6h-14.6zM1311.3 252.7h14.6v14.6h-14.6zM1305.8 260.5h14.6v14.6h-14.6zM1300.3 268.4h14.6v14.6h-14.6zM1295.0 276.3h14.6v14.6h-14.6zM1289.7 284.2h14.6v14.6h-14.6zM1284.4 292.2h14.6v14.6h-14.6zM1279.2 300.2h14.6v14.6h-14.6zM1274.0 308.2h14.6v14.6h-14.6zM1268.7 316.1h14.6v14.6h-14.6zM1263.4 324.1h14.6v14.6h-14.6zM1258.1 332.0h14.6v14.6h-14.6zM1252.6 339.9h14.6v14.6h-14.6zM1247.1 347.6h14.6v14.6h-14.6zM1241.5 355.4h14.6v14.6h-14.6zM1235.7 363.0h14.6v14.6h-14.6zM1229.8 370.5h14.6v14.6h-14.6zM1223.7 377.8h14.6v14.6h-14.6zM1217.4 385.0h14.6v14.6h-14.6zM1211.0 392.1h14.6v14.6h-14.6zM1204.4 399.0h14.6v14.6h-14.6zM1197.7 405.8h14.6v14.6h-14.6zM1190.8 412.4h14.6v14.6h-14.6zM1183.8 418.9h14.6v14.6h-14.6zM1176.6 425.2h14.6v14.6h-14.6zM1169.3 431.4h14.6v14.6h-14.6zM1161.9 437.4h14.6v14.6h-14.6zM1154.4 443.3h14.6v14.6h-14.6zM1146.8 449.1h14.6v14.6h-14.6zM1139.1 454.8h14.6v14.6h-14.6zM1131.3 460.3h14.6v14.6h-14.6zM1123.5 465.7h14.6v14.6h-14.6zM1115.5 471.0h14.6v14.6h-14.6zM1107.5 476.3h14.6v14.6h-14.6zM1099.6 481.5h14.6v14.6h-14.6zM1091.6 486.8h14.6v14.6h-14.6zM1083.7 492.1h14.6v14.6h-14.6zM1075.9 497.6h14.6v14.6h-14.6zM1068.2 503.3h14.6v14.6h-14.6zM1060.7 509.2h14.6v14.6h-14.6zM1053.4 515.4h14.6v14.6h-14.6zM1046.4 521.9h14.6v14.6h-14.6zM1039.7 528.7h14.6v14.6h-14.6z" fill="#515151"/>
<path d="M1041.0 532.0a8.0 8.0 0 1 0 16.0 0a8.0 8.0 0 1 0 -16.0 0zM1045.6 523.7a8.0 8.0 0 1 0 16.0 0a8.0 8.0 0 1 0 -16.0 0zM1050.2 515.3a8.0 8.0 0 1 0 16.0 0a8.0 8.0 0 1 0 -16.0 0zM1054.8 507.0a8.0 8.0 0 1 0 16.0 0a8.0 8.0 0 1 0 -16.0 0zM1059.5 498.8a8.0 8.0 0 1 0 16.0 0a8.0 8.0 0 1 0 -16.0 0zM1064.2 490.5a8.0 8.0 0 1 0 16.0 0a8.0 8.0 0 1 0 -16.0 0zM1069.0 482.3a8.0 8.0 0 1 0 16.0 0a8.0 8.0 0 1 0 -16.0 0zM1073.9 474.1a8.0 8.0 0 1 0 16.0 0a8.0 8.0 0 1 0 -16.0 0zM1078.7 466.0a8.0 8.0 0 1 0 16.0 0a8.0 8.0 0 1 0 -16.0 0zM1083.7 457.9a8.0 8.0 0 1 0 16.0 0a8.0 8.0 0 1 0 -16.0 0zM1088.7 449.8a8.0 8.0 0 1 0 16.0 0a8.0 8.0 0 1 0 -16.0 0zM1093.8 441.7a8.0 8.0 0 1 0 16.0 0a8.0 8.0 0 1 0 -16.0 0zM1098.9 433.7a8.0 8.0 0 1 0 16.0 0a8.0 8.0 0 1 0 -16.0 0zM1104.1 425.7a8.0 8.0 0 1 0 16.0 0a8.0 8.0 0 1 0 -16.0 0zM1109.3 417.8a8.0 8.0 0 1 0 16.0 0a8.0 8.0 0 1 0 -16.0 0zM1114.6 409.9a8.0 8.0 0 1 0 16.0 0a8.0 8.0 0 1 0 -16.0 0zM1120.0 402.1a8.0 8.0 0 1 0 16.0 0a8.0 8.0 0 1 0 -16.0 0zM1125.4 394.3a8.0 8.0 0 1 0 16.0 0a8.0 8.0 0 1 0 -16.0 0zM1130.9 386.5a8.0 8.0 0 1 0 16.0 0a8.0 8.0 0 1 0 -16.0 0zM1136.4 378.8a8.0 8.0 0 1 0 16.0 0a8.0 8.0 0 1 0 -16.0 0zM1142.1 371.1a8.0 8.0 0 1 0 16.0 0a8.0 8.0 0 1 0 -16.0 0zM1147.8 363.5a8.0 8.0 0 1 0 16.0 0a8.0 8.0 0 1 0 -16.0 0zM1153.5 355.9a8.0 8.0 0 1 0 16.0 0a8.0 8.0 0 1 0 -16.0 0zM1159.3 348.4a8.0 8.0 0 1 0 16.0 0a8.0 8.0 0 1 0 -16.0 0zM1165.3 341.0a8.0 8.0 0 1 0 16.0 0a8.0 8.0 0 1 0 -16.0 0zM1171.2 333.6a8.0 8.0 0 1 0 16.0 0a8.0 8.0 0 1 0 -16.0 0zM1177.3 326.3a8.0 8.0 0 1 0 16.0 0a8.0 8.0 0 1 0 -16.0 0zM1183.4 319.0a8.0 8.0 0 1 0 16.0 0a8.0 8.0 0 1 0 -16.0 0zM1189.6 311.8a8.0 8.0 0 1 0 16.0 0a8.0 8.0 0 1 0 -16.0 0zM1195.9 304.7a8.0 8.0 0 1 0 16.0 0a8.0 8.0 0 1 0 -16.0 0zM1202.3 297.6a8.0 8.0 0 1 0 16.0 0a8.0 8.0 0 1 0 -16.0 0zM1208.7 290.6a8.0 8.0 0 1 0 16.0 0a8.0 8.0 0 1 0 -16.0 0zM1215.2 283.7a8.0 8.0 0 1 0 16.0 0a8.0 8.0 0 1 0 -16.0 0zM1221.8 276.8a8.0 8.0 0 1 0 16.0 0a8.0 8.0 0 1 0 -16.0 0zM1228.5 270.1a8.0 8.0 0 1 0 16.0 0a8.0 8.0 0 1 0 -16.0 0zM1235.3 263.4a8.0 8.0 0 1 0 16.0 0a8.0 8.0 0 1 0 -16.0 0zM1242.1 256.8a8.0 8.0 0 1 0 16.0 0a8.0 8.0 0 1 0 -16.0 0zM1249.1 250.3a8.0 8.0 0 1 0 16.0 0a8.0 8.0 0 1 0 -16.0 0zM1256.1 243.9a8.0 8.0 0 1 0 16.0 0a8.0 8.0 0 1 0 -16.0 0zM1263.2 237.6a8.0 8.0 0 1 0 16.0 0a8.0 8.0 0 1 0 -16.0 0zM1270.3 231.3a8.0 8.0 0 1 0 16.0 0a8.0 8.0 0 1 0 -16.0 0zM1277.6 225.2a8.0 8.0 0 1 0 16.0 0a8.0 8.0 0 1 0 -16.0 0zM1285.0 219.1a8.0 8.0 0 1 0 16.0 0a8.0 8.0 0 1 0 -16.0 0zM1292.4 213.2a8.0 8.0 0 1 0 16.0 0a8.0 8.0 0 1 0 -16.0 0zM1299.9 207.4a8.0 8.0 0 1 0 16.0 0a8.0 8.0 0 1 0 -16.0 0zM1307.5 201.7a8.0 8.0 0 1 0 16.0 0a8.0 8.0 0 1 0 -16.0 0zM1315.2 196.0a8.0 8.0 0 1 0 16.0 0a8.0 8.0 0 1 0 -16.0 0zM1322.9 190.5a8.0 8.0 0 1 0 16.0 0a8.0 8.0 0 1 0 -16.0 0zM1330.7 185.1a8.0 8.0 0 1 0 16.0 0a8.0 8.0 0 1 0 -16.0 0zM1338.7 179.9a8.0 8.0 0 1 0 16.0 0a8.0 8.0 0 1 0 -16.0 0zM1346.6 174.7a8.0 8.0 0 1 0 16.0 0a8.0 8.0 0 1 0 -16.0 0zM1354.7 169.7a8.0 8.0 0 1 0 16.0 0a8.0 8.0 0 1 0 -16.0 0zM1362.9 164.8a8.0 8.0 0 1 0 16.0 0a8.0 8.0 0 1 0 -16.0 0zM1371.1 160.0a8.0 8.0 0 1 0 16.0 0a8.0 8.0 0 1 0 -16.0 0zM1379.4 155.4a8.0 8.0 0 1 0 16.0 0a8.0 8.0 0 1 0 -16.0 0zM1387.7 150.9a8.0 8.0 0 1 0 16.0 0a8.0 8.0 0 1 0 -16.0 0zM1396.2 146.5a8.0 8.0 0 1 0 16.0 0a8.0 8.0 0 1 0 -16.0 0zM1404.7 142.2a8.0 8.0 0 1 0 16.0 0a8.0 8.0 0 1 0 -16.0 0zM1413.3 138.1a8.0 8.0 0 1 0 16.0 0a8.0 8.0 0 1 0 -16.0 0zM1421.9 134.2a8.0 8.0 0 1 0 16.0 0a8.0 8.0 0 1 0 -16.0 0zM1430.6 130.3a8.0 8.0 0 1 0 16.0 0a8.0 8.0 0 1 0 -16.0 0zM1439.4 126.7a8.0 8.0 0 1 0 16.0 0a8.0 8.0 0 1 0 -16.0 0zM1448.2 123.1a8.0 8.0 0 1 0 16.0 0a8.0 8.0 0 1 0 -16.0 0zM1457.1 119.7a8.0 8.0 0 1 0 16.0 0a8.0 8.0 0 1 0 -16.0 0zM1466.0 116.5a8.0 8.0 0 1 0 16.0 0a8.0 8.0 0 1 0 -16.0 0zM1466.0 116.5a8.0 8.0 0 1 0 16.0 0a8.0 8.0 0 1 0 -16.0 0zM1461.5 124.9a8.0 8.0 0 1 0 16.0 0a8.0 8.0 0 1 0 -16.0 0zM1457.0 133.2a8.0 8.0 0 1 0 16.0 0a8.0 8.0 0 1 0 -16.0 0zM1452.5 141.5a8.0 8.0 0 1 0 16.0 0a8.0 8.0 0 1 0 -16.0 0zM1447.8 149.8a8.0 8.0 0 1 0 16.0 0a8.0 8.0 0 1 0 -16.0 0zM1443.2 158.1a8.0 8.0 0 1 0 16.0 0a8.0 8.0 0 1 0 -16.0 0zM1438.4 166.3a8.0 8.0 0 1 0 16.0 0a8.0 8.0 0 1 0 -16.0 0zM1433.7 174.5a8.0 8.0 0 1 0 16.0 0a8.0 8.0 0 1 0 -16.0 0zM1428.8 182.6a8.0 8.0 0 1 0 16.0 0a8.0 8.0 0 1 0 -16.0 0zM1423.9 190.8a8.0 8.0 0 1 0 16.0 0a8.0 8.0 0 1 0 -16.0 0zM1419.0 198.9a8.0 8.0 0 1 0 16.0 0a8.0 8.0 0 1 0 -16.0 0zM1414.0 206.9a8.0 8.0 0 1 0 16.0 0a8.0 8.0 0 1 0 -16.0 0zM1408.9 214.9a8.0 8.0 0 1 0 16.0 0a8.0 8.0 0 1 0 -16.0 0zM1403.8 222.9a8.0 8.0 0 1 0 16.0 0a8.0 8.0 0 1 0 -16.0 0zM1398.5 230.8a8.0 8.0 0 1 0 16.0 0a8.0 8.0 0 1 0 -16.0 0zM1393.3 238.7a8.0 8.0 0 1 0 16.0 0a8.0 8.0 0 1 0 -16.0 0zM1387.9 246.5a8.0 8.0 0 1 0 16.0 0a8.0 8.0 0 1 0 -16.0 0zM1382.5 254.3a8.0 8.0 0 1 0 16.0 0a8.0 8.0 0 1 0 -16.0 0zM1377.0 262.0a8.0 8.0 0 1 0 16.0 0a8.0 8.0 0 1 0 -16.0 0zM1371.5 269.7a8.0 8.0 0 1 0 16.0 0a8.0 8.0 0 1 0 -16.0 0zM1365.8 277.4a8.0 8.0 0 1 0 16.0 0a8.0 8.0 0 1 0 -16.0 0zM1360.1 284.9a8.0 8.0 0 1 0 16.0 0a8.0 8.0 0 1 0 -16.0 0zM1354.3 292.4a8.0 8.0 0 1 0 16.0 0a8.0 8.0 0 1 0 -16.0 0zM1348.4 299.9a8.0 8.0 0 1 0 16.0 0a8.0 8.0 0 1 0 -16.0 0zM1342.5 307.3a8.0 8.0 0 1 0 16.0 0a8.0 8.0 0 1 0 -16.0 0zM1336.5 314.6a8.0 8.0 0 1 0 16.0 0a8.0 8.0 0 1 0 -16.0 0zM1330.3 321.8a8.0 8.0 0 1 0 16.0 0a8.0 8.0 0 1 0 -16.0 0zM1324.1 329.0a8.0 8.0 0 1 0 16.0 0a8.0 8.0 0 1 0 -16.0 0zM1317.8 336.1a8.0 8.0 0 1 0 16.0 0a8.0 8.0 0 1 0 -16.0 0zM1311.5 343.1a8.0 8.0 0 1 0 16.0 0a8.0 8.0 0 1 0 -16.0 0zM1305.0 350.0a8.0 8.0 0 1 0 16.0 0a8.0 8.0 0 1 0 -16.0 0zM1298.4 356.9a8.0 8.0 0 1 0 16.0 0a8.0 8.0 0 1 0 -16.0 0zM1291.8 363.7a8.0 8.0 0 1 0 16.0 0a8.0 8.0 0 1 0 -16.0 0zM1285.0 370.3a8.0 8.0 0 1 0 16.0 0a8.0 8.0 0 1 0 -16.0 0zM1278.2 376.9a8.0 8.0 0 1 0 16.0 0a8.0 8.0 0 1 0 -16.0 0zM1271.3 383.4a8.0 8.0 0 1 0 16.0 0a8.0 8.0 0 1 0 -16.0 0zM1264.2 389.7a8.0 8.0 0 1 0 16.0 0a8.0 8.0 0 1 0 -16.0 0zM1257.1 396.0a8.0 8.0 0 1 0 16.0 0a8.0 8.0 0 1 0 -16.0 0zM1249.9 402.2a8.0 8.0 0 1 0 16.0 0a8.0 8.0 0 1 0 -16.0 0zM1242.6 408.2a8.0 8.0 0 1 0 16.0 0a8.0 8.0 0 1 0 -16.0 0zM1235.2 414.1a8.0 8.0 0 1 0 16.0 0a8.0 8.0 0 1 0 -16.0 0zM1227.7 419.9a8.0 8.0 0 1 0 16.0 0a8.0 8.0 0 1 0 -16.0 0zM1220.1 425.6a8.0 8.0 0 1 0 16.0 0a8.0 8.0 0 1 0 -16.0 0zM1212.4 431.2a8.0 8.0 0 1 0 16.0 0a8.0 8.0 0 1 0 -16.0 0zM1204.6 436.6a8.0 8.0 0 1 0 16.0 0a8.0 8.0 0 1 0 -16.0 0zM1196.8 441.9a8.0 8.0 0 1 0 16.0 0a8.0 8.0 0 1 0 -16.0 0zM1188.8 447.1a8.0 8.0 0 1 0 16.0 0a8.0 8.0 0 1 0 -16.0 0zM1180.8 452.1a8.0 8.0 0 1 0 16.0 0a8.0 8.0 0 1 0 -16.0 0zM1172.6 456.9a8.0 8.0 0 1 0 16.0 0a8.0 8.0 0 1 0 -16.0 0zM1164.4 461.7a8.0 8.0 0 1 0 16.0 0a8.0 8.0 0 1 0 -16.0 0zM1156.1 466.2a8.0 8.0 0 1 0 16.0 0a8.0 8.0 0 1 0 -16.0 0zM1147.7 470.7a8.0 8.0 0 1 0 16.0 0a8.0 8.0 0 1 0 -16.0 0zM1139.3 475.1a8.0 8.0 0 1 0 16.0 0a8.0 8.0 0 1 0 -16.0 0zM1130.9 479.4a8.0 8.0 0 1 0 16.0 0a8.0 8.0 0 1 0 -16.0 0zM1122.4 483.6a8.0 8.0 0 1 0 16.0 0a8.0 8.0 0 1 0 -16.0 0zM1113.9 487.9a8.0 8.0 0 1 0 16.0 0a8.0 8.0 0 1 0 -16.0 0zM1105.5 492.3a8.0 8.0 0 1 0 16.0 0a8.0 8.0 0 1 0 -16.0 0zM1097.1 496.6a8.0 8.0 0 1 0 16.0 0a8.0 8.0 0 1 0 -16.0 0zM1088.7 501.1a8.0 8.0 0 1 0 16.0 0a8.0 8.0 0 1 0 -16.0 0zM1080.5 505.8a8.0 8.0 0 1 0 16.0 0a8.0 8.0 0 1 0 -16.0 0zM1072.3 510.6a8.0 8.0 0 1 0 16.0 0a8.0 8.0 0 1 0 -16.0 0zM1064.2 515.6a8.0 8.0 0 1 0 16.0 0a8.0 8.0 0 1 0 -16.0 0zM1056.3 520.8a8.0 8.0 0 1 0 16.0 0a8.0 8.0 0 1 0 -16.0 0zM1048.5 526.2a8.0 8.0 0 1 0 16.0 0a8.0 8.0 0 1 0 -16.0 0zM1041.0 532.0a8.0 8.0 0 1 0 16.0 0a8.0 8.0 0 1 0 -16.0 0z" fill="#F14040"/>
<path d="M1050.0 522.1l9.15 15.85h-18.3zM1054.0 513.4l9.15 15.85h-18.3zM1058.2 504.8l9.15 15.85h-18.3zM1062.4 496.3l9.15 15.85h-18.3zM1066.7 487.8l9.15 15.85h-18.3zM1071.1 479.3l9.15 15.85h-18.3zM1075.6 470.8l9.15 15.85h-18.3zM1080.1 462.5l9.15 15.85h-18.3zM1084.7 454.1l9.15 15.85h-18.3zM1089.4 445.8l9.15 15.85h-18.3zM1094.2 437.5l9.15 15.85h-18.3zM1099.1 429.3l9.15 15.85h-18.3zM1104.0 421.2l9.15 15.85h-18.3zM1109.0 413.0l9.15 15.85h-18.3zM1114.1 404.9l9.15 15.85h-18.3zM1119.3 396.9l9.15 15.85h-18.3zM1124.5 388.9l9.15 15.85h-18.3zM1129.8 381.0l9.15 15.85h-18.3zM1135.2 373.1l9.15 15.85h-18.3zM1140.7 365.3l9.15 15.85h-18.3zM1146.2 357.5l9.15 15.85h-18.3zM1151.8 349.8l9.15 15.85h-18.3zM1157.6 342.2l9.15 15.85h-18.3zM1163.4 334.6l9.15 15.85h-18.3zM1169.3 327.1l9.15 15.85h-18.3zM1175.3 319.7l9.15 15.85h-18.3zM1181.4 312.4l9.15 15.85h-18.3zM1187.6 305.1l9.15 15.85h-18.3zM1193.9 298.0l9.15 15.85h-18.3zM1200.4 290.9l9.15 15.85h-18.3zM1206.9 284.0l9.15 15.85h-18.3zM1213.6 277.2l9.15 15.85h-18.3zM1220.4 270.5l9.15 15.85h-18.3zM1227.3 263.9l9.15 15.85h-18.3zM1234.4 257.5l9.15 15.85h-18.3zM1241.6 251.3l9.15 15.85h-18.3zM1248.9 245.1l9.15 15.85h-18.3zM1256.4 239.2l9.15 15.85h-18.3zM1264.0 233.4l9.15 15.85h-18.3zM1271.7 227.8l9.15 15.85h-18.3zM1279.5 222.3l9.15 15.85h-18.3zM1287.5 217.0l9.15 15.85h-18.3zM1295.5 211.9l9.15 15.85h-18.3zM1303.6 206.8l9.15 15.85h-18.3zM1311.8 201.9l9.15 15.85h-18.3zM1320.0 197.1l9.15 15.85h-18.3zM1328.3 192.4l9.15 15.85h-18.3zM1336.7 187.8l9.15 15.85h-18.3zM1345.1 183.2l9.15 15.85h-18.3zM1353.5 178.8l9.15 15.85h-18.3zM1362.0 174.4l9.15 15.85h-18.3zM1370.5 170.0l9.15 15.85h-18.3zM1379.0 165.7l9.15 15.85h-18.3zM1387.5 161.5l9.15 15.85h-18.3zM1396.1 157.3l9.15 15.85h-18.3zM1404.7 153.1l9.15 15.85h-18.3zM1413.3 149.0l9.15 15.85h-18.3zM1421.9 144.9l9.15 15.85h-18.3zM1430.5 140.8l9.15 15.85h-18.3zM1439.2 136.8l9.15 15.85h-18.3zM1447.8 132.8l9.15 15.85h-18.3zM1456.5 128.8l9.15 15.85h-18.3zM1465.3 124.9l9.15 15.85h-18.3zM1474.0 121.1l9.15 15.85h-18.3zM1482.8 117.3l9.15 15.85h-18.3zM1491.6 113.6l9.15 15.85h-18.3zM1500.4 110.0l9.15 15.85h-18.3zM1509.2 106.4l9.15 15.85h-18.3zM1518.1 102.9l9.15 15.85h-18.3zM1527.0 99.6l9.15 15.85h-18.3zM1536.0 96.3l9.15 15.85h-18.3zM1545.0 93.1l9.15 15.85h-18.3zM1545.0 93.1l9.15 15.85h-18.3zM1540.0 101.1l9.15 15.85h-18.3zM1535.0 109.2l9.15 15.85h-18.3zM1530.0 117.4l9.15 15.85h-18.3zM1525.2 125.5l9.15 15.85h-18.3zM1520.3 133.7l9.15 15.85h-18.3zM1515.4 141.9l9.15 15.85h-18.3zM1510.6 150.0l9.15 15.85h-18.3zM1505.8 158.2l9.15 15.85h-18.3zM1500.9 166.4l9.15 15.85h-18.3zM1496.1 174.6l9.15 15.85h-18.3zM1491.2 182.7l9.15 15.85h-18.3zM1486.2 190.8l9.15 15.85h-18.3zM1481.2 198.9l9.15 15.85h-18.3zM1476.2 207.0l9.15 15.85h-18.3zM1471.0 215.0l9.15 15.85h-18.3zM1465.8 222.9l9.15 15.85h-18.3zM1460.5 230.8l9.15 15.85h-18.3zM1455.1 238.6l9.15 15.85h-18.3zM1449.6 246.3l9.15 15.85h-18.3zM1443.9 254.0l9.15 15.85h-18.3zM1438.1 261.6l9.15 15.85h-18.3zM1432.3 269.0l9.15 15.85h-18.3zM1426.3 276.4l9.15 15.85h-18.3zM1420.2 283.7l9.15 15.85h-18.3zM1414.0 290.9l9.15 15.85h-18.3zM1407.7 298.1l9.15 15.85h-18.3zM1401.3 305.1l9.15 15.85h-18.3zM1394.8 312.1l9.15 15.85h-18.3zM1388.3 318.9l9.15 15.85h-18.3zM1381.6 325.7l9.15 15.85h-18.3zM1374.9 332.4l9.15 15.85h-18.3zM1368.0 339.0l9.15 15.85h-18.3zM1361.1 345.6l9.15 15.85h-18.3zM1354.2 352.0l9.15 15.85h-18.3zM1347.1 358.4l9.15 15.85h-18.3zM1340.0 364.7l9.15 15.85h-18.3zM1332.8 370.9l9.15 15.85h-18.3zM1325.5 377.1l9.15 15.85h-18.3zM1318.2 383.1l9.15 15.85h-18.3zM1310.8 389.1l9.15 15.85h-18.3zM1303.4 395.0l9.15 15.85h-18.3zM1295.9 400.8l9.15 15.85h-18.3zM1288.3 406.5l9.15 15.85h-18.3zM1280.6 412.1l9.15 15.85h-18.3zM1272.8 417.6l9.15 15.85h-18.3zM1264.9 422.9l9.15 15.85h-18.3zM1257.0 428.1l9.15 15.85h-18.3zM1248.9 433.2l9.15 15.85h-18.3zM1240.8 438.1l9.15 15.85h-18.3zM1232.6 442.9l9.15 15.85h-18.3zM1224.3 447.5l9.15 15.85h-18.3zM1215.8 451.9l9.15 15.85h-18.3zM1207.3 456.1l9.15 15.85h-18.3zM1198.7 460.2l9.15 15.85h-18.3zM1190.0 464.0l9.15 15.85h-18.3zM1181.2 467.6l9.15 15.85h-18.3zM1172.4 471.0l9.15 15.85h-18.3zM1163.4 474.2l9.15 15.85h-18.3zM1154.4 477.3l9.15 15.85h-18.3zM1145.4 480.3l9.15 15.85h-18.3zM1136.4 483.3l9.15 15.85h-18.3zM1127.3 486.3l9.15 15.85h-18.3zM1118.3 489.3l9.15 15.85h-18.3zM1109.4 492.5l9.15 15.85h-18.3zM1100.5 495.8l9.15 15.85h-18.3zM1091.7 499.4l9.15 15.85h-18.3zM1083.0 503.2l9.15 15.85h-18.3zM1074.4 507.4l9.15 15.85h-18.3zM1066.0 511.9l9.15 15.85h-18.3zM1057.9 516.8l9.15 15.85h-18.3zM1050.0 522.1l9.15 15.85h-18.3z" fill="#1A6FDF"/>
<path d="M1037.9 526.1h18.3l-9.15 15.85zM1042.4 517.7h18.3l-9.15 15.85zM1047.0 509.4h18.3l-9.15 15.85zM1051.7 501.1h18.3l-9.15 15.85zM1056.3 492.8h18.3l-9.15 15.85zM1061.0 484.5h18.3l-9.15 15.85zM1065.7 476.2h18.3l-9.15 15.85zM1070.4 468.0h18.3l-9.15 15.85zM1075.2 459.7h18.3l-9.15 15.85zM1080.0 451.5h18.3l-9.15 15.85zM1084.9 443.4h18.3l-9.15 15.85zM1089.8 435.2h18.3l-9.15 15.85zM1094.8 427.1h18.3l-9.15 15.85zM1099.9 419.0h18.3l-9.15 15.85zM1105.0 411.0h18.3l-9.15 15.85zM1110.1 403.0h18.3l-9.15 15.85zM1115.4 395.0h18.3l-9.15 15.85zM1120.7 387.1h18.3l-9.15 15.85zM1126.0 379.3h18.3l-9.15 15.85zM1131.5 371.5h18.3l-9.15 15.85zM1137.0 363.8h18.3l-9.15 15.85zM1142.7 356.1h18.3l-9.15 15.85zM1148.4 348.5h18.3l-9.15 15.85zM1154.2 340.9h18.3l-9.15 15.85zM1160.1 333.5h18.3l-9.15 15.85zM1166.1 326.1h18.3l-9.15 15.85zM1172.2 318.8h18.3l-9.15 15.85zM1178.4 311.5h18.3l-9.15 15.85zM1184.7 304.4h18.3l-9.15 15.85zM1191.0 297.3h18.3l-9.15 15.85zM1197.5 290.3h18.3l-9.15 15.85zM1204.1 283.5h18.3l-9.15 15.85zM1210.8 276.7h18.3l-9.15 15.85zM1217.5 270.0h18.3l-9.15 15.85zM1224.4 263.4h18.3l-9.15 15.85zM1231.3 256.9h18.3l-9.15 15.85zM1238.4 250.5h18.3l-9.15 15.85zM1245.5 244.2h18.3l-9.15 15.85zM1252.8 238.0h18.3l-9.15 15.85zM1260.1 232.0h18.3l-9.15 15.85zM1267.6 226.0h18.3l-9.15 15.85zM1275.1 220.2h18.3l-9.15 15.85zM1282.7 214.5h18.3l-9.15 15.85zM1290.4 208.9h18.3l-9.15 15.85zM1298.2 203.5h18.3l-9.15 15.85zM1306.1 198.1h18.3l-9.15 15.85zM1314.1 192.9h18.3l-9.15 15.85zM1322.1 187.8h18.3l-9.15 15.85zM1330.2 182.8h18.3l-9.15 15.85zM1338.4 178.0h18.3l-9.15 15.85zM1346.6 173.2h18.3l-9.15 15.85zM1355.0 168.6h18.3l-9.15 15.85zM1363.3 164.1h18.3l-9.15 15.85zM1371.8 159.7h18.3l-9.15 15.85zM1380.3 155.4h18.3l-9.15 15.85zM1388.9 151.3h18.3l-9.15 15.85zM1397.5 147.2h18.3l-9.15 15.85zM1406.1 143.3h18.3l-9.15 15.85zM1414.8 139.5h18.3l-9.15 15.85zM1423.6 135.7h18.3l-9.15 15.85zM1432.4 132.1h18.3l-9.15 15.85zM1441.3 128.6h18.3l-9.15 15.85zM1450.1 125.2h18.3l-9.15 15.85zM1459.1 121.9h18.3l-9.15 15.85zM1468.0 118.7h18.3l-9.15 15.85zM1477.1 115.7h18.3l-9.15 15.85zM1486.1 112.7h18.3l-9.15 15.85zM1495.2 109.8h18.3l-9.15 15.85zM1504.3 107.0h18.3l-9.15 15.85zM1513.4 104.4h18.3l-9.15 15.85zM1522.6 101.8h18.3l-9.15 15.85zM1531.8 99.3h18.3l-9.15 15.85zM1541.0 97.0h18.3l-9.15 15.85zM1550.2 94.7h18.3l-9.15 15.85zM1559.5 92.5h18.3l-9.15 15.85zM1568.8 90.5h18.3l-9.15 15.85zM1578.1 88.5h18.3l-9.15 15.85zM1587.4 86.6h18.3l-9.15 15.85zM1596.8 84.8h18.3l-9.15 15.85zM1606.1 83.2h18.3l-9.15 15.85zM1606.1 83.2h18.3l-9.15 15.85zM1601.3 91.4h18.3l-9.15 15.85zM1596.5 99.5h18.3l-9.15 15.85zM1591.7 107.7h18.3l-9.15 15.85zM1586.9 115.9h18.3l-9.15 15.85zM1582.1 124.1h18.3l-9.15 15.85zM1577.3 132.3h18.3l-9.15 15.85zM1572.4 140.4h18.3l-9.15 15.85zM1567.5 148.5h18.3l-9.15 15.85zM1562.5 156.6h18.3l-9.15 15.85zM1557.5 164.7h18.3l-9.15 15.85zM1552.5 172.8h18.3l-9.15 15.85zM1547.5 180.8h18.3l-9.15 15.85zM1542.3 188.8h18.3l-9.15 15.85zM1537.2 196.7h18.3l-9.15 15.85zM1531.9 204.7h18.3l-9.15 15.85zM1526.6 212.5h18.3l-9.15 15.85zM1521.3 220.4h18.3l-9.15 15.85zM1515.9 228.2h18.3l-9.15 15.85zM1510.4 235.9h18.3l-9.15 15.85zM1504.8 243.6h18.3l-9.15 15.85zM1499.1 251.2h18.3l-9.15 15.85zM1493.4 258.8h18.3l-9.15 15.85zM1487.6 266.3h18.3l-9.15 15.85zM1481.7 273.7h18.3l-9.15 15.85zM1475.7 281.0h18.3l-9.15 15.85zM1469.6 288.3h18.3l-9.15 15.85zM1463.4 295.5h18.3l-9.15 15.85zM1457.1 302.6h18.3l-9.15 15.85zM1450.7 309.7h18.3l-9.15 15.85zM1444.3 316.6h18.3l-9.15 15.85zM1437.7 323.5h18.3l-9.15 15.85zM1431.1 330.3h18.3l-9.15 15.85zM1424.3 336.9h18.3l-9.15 15.85zM1417.5 343.5h18.3l-9.15 15.85zM1410.6 350.0h18.3l-9.15 15.85zM1403.5 356.4h18.3l-9.15 15.85zM1396.4 362.7h18.3l-9.15 15.85zM1389.2 368.9h18.3l-9.15 15.85zM1381.9 374.9h18.3l-9.15 15.85zM1374.5 380.9h18.3l-9.15 15.85zM1367.0 386.7h18.3l-9.15 15.85zM1359.5 392.4h18.3l-9.15 15.85zM1351.8 398.0h18.3l-9.15 15.85zM1344.0 403.5h18.3l-9.15 15.85zM1336.2 408.9h18.3l-9.15 15.85zM1328.3 414.1h18.3l-9.15 15.85zM1320.3 419.2h18.3l-9.15 15.85zM1312.2 424.2h18.3l-9.15 15.85zM1304.1 429.1h18.3l-9.15 15.85zM1295.9 433.9h18.3l-9.15 15.85zM1287.6 438.5h18.3l-9.15 15.85zM1279.3 443.1h18.3l-9.15 15.85zM1270.9 447.5h18.3l-9.15 15.85zM1262.4 451.8h18.3l-9.15 15.85zM1253.9 456.0h18.3l-9.15 15.85zM1245.4 460.1h18.3l-9.15 15.85zM1236.7 464.1h18.3l-9.15 15.85zM1228.1 468.0h18.3l-9.15 15.85zM1219.4 471.8h18.3l-9.15 15.85zM1210.6 475.4h18.3l-9.15 15.85zM1201.8 479.0h18.3l-9.15 15.85zM1193.0 482.4h18.3l-9.15 15.85zM1184.1 485.8h18.3l-9.15 15.85zM1175.2 489.0h18.3l-9.15 15.85zM1166.2 492.2h18.3l-9.15 15.85zM1157.2 495.2h18.3l-9.15 15.85zM1148.2 498.2h18.3l-9.15 15.85zM1139.2 501.0h18.3l-9.15 15.85zM1130.1 503.8h18.3l-9.15 15.85zM1121.0 506.4h18.3l-9.15 15.85zM1111.8 509.0h18.3l-9.15 15.85zM1102.6 511.5h18.3l-9.15 15.85zM1093.5 513.8h18.3l-9.15 15.85zM1084.2 516.1h18.3l-9.15 15.85zM1075.0 518.3h18.3l-9.15 15.85zM1065.7 520.4h18.3l-9.15 15.85zM1056.5 522.3h18.3l-9.15 15.85zM1047.2 524.2h18.3l-9.15 15.85zM1037.8 526.1h18.3l-9.15 15.85z" fill="#37AD6B"/>
</g>
<rect x="975.5" y="15.1" width="710.7" height="571.0" fill="none" stroke="#000" stroke-width="2.5"/>
<path d="M975.5 534.2h12M975.5 482.3h6M975.5 430.4h12M975.5 378.5h6M975.5 326.6h12M975.5 274.6h6M975.5 222.7h12M975.5 170.8h6M975.5 118.9h12M975.5 67.0h6M1064.3 586.1v-6M1153.2 586.1v-12M1242.0 586.1v-6M1330.8 586.1v-12M1419.7 586.1v-6M1508.5 586.1v-12M1597.4 586.1v-6" stroke="#000" stroke-width="2.5" fill="none"/>
<g clip-path="url(#clipc)">
<path d="M167.9 1271.9h14.6v14.6h-14.6zM172.5 1263.6h14.6v14.6h-14.6zM177.2 1255.2h14.6v14.6h-14.6zM181.9 1247.0h14.6v14.6h-14.6zM186.7 1238.7h14.6v14.6h-14.6zM191.5 1230.4h14.6v14.6h-14.6zM196.3 1222.2h14.6v14.6h-14.6zM201.2 1214.0h14.6v14.6h-14.6zM206.2 1205.9h14.6v14.6h-14.6zM211.1 1197.8h14.6v14.6h-14.6zM216.2 1189.7h14.6v14.6h-14.6zM221.3 1181.6h14.6v14.6h-14.6zM226.4 1173.5h14.6v14.6h-14.6zM231.6 1165.5h14.6v14.6h-14.6zM236.8 1157.5h14.6v14.6h-14.6zM242.1 1149.6h14.6v14.6h-14.6zM247.4 1141.7h14.6v14.6h-14.6zM252.8 1133.8h14.6v14.6h-14.6zM258.2 1126.0h14.6v14.6h-14.6zM263.7 1118.2h14.6v14.6h-14.6zM269.2 1110.4h14.6v14.6h-14.6zM274.8 1102.7h14.6v14.6h-14.6zM280.4 1095.0h14.6v14.6h-14.6zM286.1 1087.3h14.6v14.6h-14.6zM291.8 1079.7h14.6v14.6h-14.6zM297.6 1072.1h14.6v14.6h-14.6zM303.5 1064.6h14.6v14.6h-14.6zM309.4 1057.1h14.6v14.6h-14.6zM315.4 1049.7h14.6v14.6h-14.6zM321.4 1042.3h14.6v14.6h-14.6zM327.5 1034.9h14.6v14.6h-14.6zM333.6 1027.6h14.6v14.6h-14.6zM339.8 1020.3h14.6v14.6h-14.6zM346.0 1013.1h14.6v14.6h-14.6zM352.4 1006.0h14.6v14.6h-14.6zM358.7 998.9h14.6v14.6h-14.6zM365.1 991.8h14.6v14.6h-14.6zM371.6 984.8h14.6v14.6h-14.6zM378.2 977.9h14.6v14.6h-14.6zM384.8 971.0h14.6v14.6h-14.6zM391.4 964.2h14.6v14.6h-14.6zM398.2 957.4h14.6v14.6h-14.6zM404.9 950.7h14.6v14.6h-14.6zM411.8 944.1h14.6v14.6h-14.6zM418.7 937.5h14.6v14.6h-14.6zM425.7 931.0h14.6v14.6h-14.6zM432.7 924.5h14.6v14.6h-14.6zM439.8 918.1h14.6v14.6h-14.6zM446.9 911.8h14.6v14.6h-14.6zM454.1 905.6h14.6v14.6h-14.6zM461.4 899.4h14.6v14.6h-14.6zM468.7 893.3h14.6v14.6h-14.6zM476.1 887.3h14.6v14.6h-14.6zM483.6 881.3h14.6v14.6h-14.6zM491.1 875.4h14.6v14.6h-14.6zM498.6 869.6h14.6v14.6h-14.6zM506.3 863.9h14.6v14.6h-14.6zM514.0 858.3h14.6v14.6h-14.6zM521.7 852.7h14.6v14.6h-14.6zM521.7 852.7h14.6v14.6h-14.6zM516.8 860.9h14.6v14.6h-14.6zM511.9 869.1h14.6v14.6h-14.6zM507.0 877.2h14.6v14.6h-14.6zM502.1 885.4h14.6v14.6h-14.6zM497.2 893.6h14.6v14.6h-14.6zM492.3 901.8h14.6v14.6h-14.6zM487.3 909.9h14.6v14.6h-14.6zM482.4 918.1h14.6v14.6h-14.6zM477.4 926.2h14.6v14.6h-14.6zM472.4 934.3h14.6v14.6h-14.6zM467.4 942.4h14.6v14.6h-14.6zM462.3 950.5h14.6v14.6h-14.6zM457.2 958.6h14.6v14.6h-14.6zM452.1 966.6h14.6v14.6h-14.6zM446.9 974.6h14.6v14.6h-14.6zM441.7 982.6h14.6v14.6h-14.6zM436.5 990.6h14.6v14.6h-14.6zM431.2 998.5h14.6v14.6h-14.6zM425.8 1006.4h14.6v14.6h-14.6zM420.4 1014.3h14.6v14.6h-14.6zM415.0 1022.1h14.6v14.6h-14.6zM409.5 1029.9h14.6v14.6h-14.6zM403.9 1037.6h14.6v14.6h-14.6zM398.3 1045.3h14.6v14.6h-14.6zM392.6 1052.9h14.6v14.6h-14.6zM386.8 1060.5h14.6v14.6h-14.6zM380.9 1068.1h14.6v14.6h-14.6zM375.0 1075.5h14.6v14.6h-14.6zM369.0 1082.9h14.6v14.6h-14.6zM362.9 1090.3h14.6v14.6h-14.6zM356.8 1097.6h14.6v14.6h-14.6zM350.5 1104.8h14.6v14.6h-14.6zM344.2 1111.9h14.6v14.6h-14.6zM337.8 1119.0h14.6v14.6h-14.6zM331.3 1126.0h14.6v14.6h-14.6zM324.8 1132.9h14.6v14.6h-14.6zM318.2 1139.8h14.6v14.6h-14.6zM311.5 1146.6h14.6v14.6h-14.6zM304.8 1153.4h14.6v14.6h-14.6zM298.0 1160.1h14.6v14.6h-14.6zM291.1 1166.7h14.6v14.6h-14.6zM284.2 1173.3h14.6v14.6h-14.6zM277.3 1179.8h14.6v14.6h-14.6zM270.3 1186.3h14.6v14.6h-14.6zM263.2 1192.7h14.6v14.6h-14.6zM256.1 1199.0h14.6v14.6h-14.6zM248.9 1205.3h14.6v14.6h-14.6zM241.7 1211.6h14.6v14.6h-14.6zM234.5 1217.8h14.6v14.6h-14.6zM227.2 1224.0h14.6v14.6h-14.6zM219.9 1230.1h14.6v14.6h-14.6zM212.6 1236.2h14.6v14.6h-14.6zM205.2 1242.2h14.6v14.6h-14.6zM197.8 1248.2h14.6v14.6h-14.6zM190.4 1254.2h14.6v14.6h-14.6zM182.9 1260.1h14.6v14.6h-14.6zM175.4 1266.0h14.6v14.6h-14.6zM167.9 1271.9h14.6v14.6h-14.6z" fill="#515151"/>
<path d="M167.0 1262.0a8.0 8.0 0 1 0 16.0 0a8.0 8.0 0 1 0 -16.0 0zM172.0 1253.9a8.0 8.0 0 1 0 16.0 0a8.0 8.0 0 1 0 -16.0 0zM177.0 1245.8a8.0 8.0 0 1 0 16.0 0a8.0 8.0 0 1 0 -16.0 0zM182.1 1237.8a8.0 8.0 0 1 0 16.0 0a8.0 8.0 0 1 0 -16.0 0zM187.1 1229.7a8.0 8.0 0 1 0 16.0 0a8.0 8.0 0 1 0 -16.0 0zM192.2 1221.6a8.0 8.0 0 1 0 16.0 0a8.0 8.0 0 1 0 -16.0 0zM197.3 1213.6a8.0 8.0 0 1 0 16.0 0a8.0 8.0 0 1 0 -16.0 0zM202.5 1205.6a8.0 8.0 0 1 0 16.0 0a8.0 8.0 0 1 0 -16.0 0zM207.6 1197.6a8.0 8.0 0 1 0 16.0 0a8.0 8.0 0 1 0 -16.0 0zM212.8 1189.6a8.0 8.0 0 1 0 16.0 0a8.0 8.0 0 1 0 -16.0 0zM218.1 1181.7a8.0 8.0 0 1 0 16.0 0a8.0 8.0 0 1 0 -16.0 0zM223.4 1173.8a8.0 8.0 0 1 0 16.0 0a8.0 8.0 0 1 0 -16.0 0zM228.7 1165.9a8.0 8.0 0 1 0 16.0 0a8.0 8.0 0 1 0 -16.0 0zM234.1 1158.1a8.0 8.0 0 1 0 16.0 0a8.0 8.0 0 1 0 -16.0 0zM239.5 1150.3a8.0 8.0 0 1 0 16.0 0a8.0 8.0 0 1 0 -16.0 0zM245.0 1142.5a8.0 8.0 0 1 0 16.0 0a8.0 8.0 0 1 0 -16.0 0zM250.6 1134.7a8.0 8.0 0 1 0 16.0 0a8.0 8.0 0 1 0 -16.0 0zM256.1 1127.0a8.0 8.0 0 1 0 16.0 0a8.0 8.0 0 1 0 -16.0 0zM261.8 1119.4a8.0 8.0 0 1 0 16.0 0a8.0 8.0 0 1 0 -16.0 0zM267.5 1111.8a8.0 8.0 0 1 0 16.0 0a8.0 8.0 0 1 0 -16.0 0zM273.3 1104.2a8.0 8.0 0 1 0 16.0 0a8.0 8.0 0 1 0 -16.0 0zM279.1 1096.7a8.0 8.0 0 1 0 16.0 0a8.0 8.0 0 1 0 -16.0 0zM285.0 1089.2a8.0 8.0 0 1 0 16.0 0a8.0 8.0 0 1 0 -16.0 0zM291.0 1081.8a8.0 8.0 0 1 0 16.0 0a8.0 8.0 0 1 0 -16.0 0zM297.1 1074.5a8.0 8.0 0 1 0 16.0 0a8.0 8.0 0 1 0 -16.0 0zM303.2 1067.2a8.0 8.0 0 1 0 16.0 0a8.0 8.0 0 1 0 -16.0 0zM309.4 1060.0a8.0 8.0 0 1 0 16.0 0a8.0 8.0 0 1 0 -16.0 0zM315.7 1052.8a8.0 8.0 0 1 0 16.0 0a8.0 8.0 0 1 0 -16.0 0zM322.0 1045.7a8.0 8.0 0 1 0 16.0 0a8.0 8.0 0 1 0 -16.0 0zM328.5 1038.7a8.0 8.0 0 1 0 16.0 0a8.0 8.0 0 1 0 -16.0 0zM335.0 1031.8a8.0 8.0 0 1 0 16.0 0a8.0 8.0 0 1 0 -16.0 0zM341.6 1025.0a8.0 8.0 0 1 0 16.0 0a8.0 8.0 0 1 0 -16.0 0zM348.3 1018.2a8.0 8.0 0 1 0 16.0 0a8.0 8.0 0 1 0 -16.0 0zM355.1 1011.5a8.0 8.0 0 1 0 16.0 0a8.0 8.0 0 1 0 -16.0 0zM362.0 1005.0a8.0 8.0 0 1 0 16.0 0a8.0 8.0 0 1 0 -16.0 0zM369.0 998.5a8.0 8.0 0 1 0 16.0 0a8.0 8.0 0 1 0 -16.0 0zM376.0 992.1a8.0 8.0 0 1 0 16.0 0a8.0 8.0 0 1 0 -16.0 0zM383.2 985.8a8.0 8.0 0 1 0 16.0 0a8.0 8.0 0 1 0 -16.0 0zM390.4 979.6a8.0 8.0 0 1 0 16.0 0a8.0 8.0 0 1 0 -16.0 0zM397.7 973.5a8.0 8.0 0 1 0 16.0 0a8.0 8.0 0 1 0 -16.0 0zM405.1 967.5a8.0 8.0 0 1 0 16.0 0a8.0 8.0 0 1 0 -16.0 0zM412.5 961.5a8.0 8.0 0 1 0 16.0 0a8.0 8.0 0 1 0 -16.0 0zM420.0 955.7a8.0 8.0 0 1 0 16.0 0a8.0 8.0 0 1 0 -16.0 0zM427.6 949.9a8.0 8.0 0 1 0 16.0 0a8.0 8.0 0 1 0 -16.0 0zM435.2 944.2a8.0 8.0 0 1 0 16.0 0a8.0 8.0 0 1 0 -16.0 0zM442.9 938.6a8.0 8.0 0 1 0 16.0 0a8.0 8.0 0 1 0 -16.0 0zM450.7 933.1a8.0 8.0 0 1 0 16.0 0a8.0 8.0 0 1 0 -16.0 0zM458.5 927.7a8.0 8.0 0 1 0 16.0 0a8.0 8.0 0 1 0 -16.0 0zM466.4 922.3a8.0 8.0 0 1 0 16.0 0a8.0 8.0 0 1 0 -16.0 0zM474.3 917.1a8.0 8.0 0 1 0 16.0 0a8.0 8.0 0 1 0 -16.0 0zM482.2 911.9a8.0 8.0 0 1 0 16.0 0a8.0 8.0 0 1 0 -16.0 0zM490.3 906.7a8.0 8.0 0 1 0 16.0 0a8.0 8.0 0 1 0 -16.0 0zM498.3 901.7a8.0 8.0 0 1 0 16.0 0a8.0 8.0 0 1 0 -16.0 0zM506.4 896.7a8.0 8.0 0 1 0 16.0 0a8.0 8.0 0 1 0 -16.0 0zM514.6 891.8a8.0 8.0 0 1 0 16.0 0a8.0 8.0 0 1 0 -16.0 0zM522.8 886.9a8.0 8.0 0 1 0 16.0 0a8.0 8.0 0 1 0 -16.0 0zM531.0 882.1a8.0 8.0 0 1 0 16.0 0a8.0 8.0 0 1 0 -16.0 0zM539.2 877.4a8.0 8.0 0 1 0 16.0 0a8.0 8.0 0 1 0 -16.0 0zM547.5 872.7a8.0 8.0 0 1 0 16.0 0a8.0 8.0 0 1 0 -16.0 0zM555.9 868.1a8.0 8.0 0 1 0 16.0 0a8.0 8.0 0 1 0 -16.0 0zM564.2 863.6a8.0 8.0 0 1 0 16.0 0a8.0 8.0 0 1 0 -16.0 0zM572.6 859.1a8.0 8.0 0 1 0 16.0 0a8.0 8.0 0 1 0 -16.0 0zM581.1 854.7a8.0 8.0 0 1 0 16.0 0a8.0 8.0 0 1 0 -16.0 0zM589.5 850.3a8.0 8.0 0 1 0 16.0 0a8.0 8.0 0 1 0 -16.0 0zM598.0 846.0a8.0 8.0 0 1 0 16.0 0a8.0 8.0 0 1 0 -16.0 0zM598.0 846.0a8.0 8.0 0 1 0 16.0 0a8.0 8.0 0 1 0 -16.0 0zM591.5 852.9a8.0 8.0 0 1 0 16.0 0a8.0 8.0 0 1 0 -16.0 0zM585.5 860.3a8.0 8.0 0 1 0 16.0 0a8.0 8.0 0 1 0 -16.0 0zM579.9 868.1a8.0 8.0 0 1 0 16.0 0a8.0 8.0 0 1 0 -16.0 0zM574.7 876.1a8.0 8.0 0 1 0 16.0 0a8.0 8.0 0 1 0 -16.0 0zM569.8 884.2a8.0 8.0 0 1 0 16.0 0a8.0 8.0 0 1 0 -16.0 0zM564.9 892.4a8.0 8.0 0 1 0 16.0 0a8.0 8.0 0 1 0 -16.0 0zM560.1 900.7a8.0 8.0 0 1 0 16.0 0a8.0 8.0 0 1 0 -16.0 0zM555.3 908.9a8.0 8.0 0 1 0 16.0 0a8.0 8.0 0 1 0 -16.0 0zM550.3 917.0a8.0 8.0 0 1 0 16.0 0a8.0 8.0 0 1 0 -16.0 0zM545.2 925.1a8.0 8.0 0 1 0 16.0 0a8.0 8.0 0 1 0 -16.0 0zM540.0 933.0a8.0 8.0 0 1 0 16.0 0a8.0 8.0 0 1 0 -16.0 0zM534.6 940.9a8.0 8.0 0 1 0 16.0 0a8.0 8.0 0 1 0 -16.0 0zM529.0 948.6a8.0 8.0 0 1 0 16.0 0a8.0 8.0 0 1 0 -16.0 0zM523.4 956.3a8.0 8.0 0 1 0 16.0 0a8.0 8.0 0 1 0 -16.0 0zM517.6 963.9a8.0 8.0 0 1 0 16.0 0a8.0 8.0 0 1 0 -16.0 0zM511.9 971.5a8.0 8.0 0 1 0 16.0 0a8.0 8.0 0 1 0 -16.0 0zM506.0 979.0a8.0 8.0 0 1 0 16.0 0a8.0 8.0 0 1 0 -16.0 0zM500.2 986.6a8.0 8.0 0 1 0 16.0 0a8.0 8.0 0 1 0 -16.0 0zM494.4 994.1a8.0 8.0 0 1 0 16.0 0a8.0 8.0 0 1 0 -16.0 0zM488.6 1001.7a8.0 8.0 0 1 0 16.0 0a8.0 8.0 0 1 0 -16.0 0zM482.8 1009.3a8.0 8.0 0 1 0 16.0 0a8.0 8.0 0 1 0 -16.0 0zM477.1 1016.9a8.0 8.0 0 1 0 16.0 0a8.0 8.0 0 1 0 -16.0 0zM471.3 1024.4a8.0 8.0 0 1 0 16.0 0a8.0 8.0 0 1 0 -16.0 0zM465.4 1032.0a8.0 8.0 0 1 0 16.0 0a8.0 8.0 0 1 0 -16.0 0zM459.5 1039.5a8.0 8.0 0 1 0 16.0 0a8.0 8.0 0 1 0 -16.0 0zM453.6 1046.9a8.0 8.0 0 1 0 16.0 0a8.0 8.0 0 1 0 -16.0 0zM447.5 1054.3a8.0 8.0 0 1 0 16.0 0a8.0 8.0 0 1 0 -16.0 0zM441.4 1061.6a8.0 8.0 0 1 0 16.0 0a8.0 8.0 0 1 0 -16.0 0zM435.1 1068.7a8.0 8.0 0 1 0 16.0 0a8.0 8.0 0 1 0 -16.0 0zM428.7 1075.8a8.0 8.0 0 1 0 16.0 0a8.0 8.0 0 1 0 -16.0 0zM422.1 1082.7a8.0 8.0 0 1 0 16.0 0a8.0 8.0 0 1 0 -16.0 0zM415.4 1089.5a8.0 8.0 0 1 0 16.0 0a8.0 8.0 0 1 0 -16.0 0zM408.5 1096.1a8.0 8.0 0 1 0 16.0 0a8.0 8.0 0 1 0 -16.0 0zM401.4 1102.4a8.0 8.0 0 1 0 16.0 0a8.0 8.0 0 1 0 -16.0 0zM394.2 1108.6a8.0 8.0 0 1 0 16.0 0a8.0 8.0 0 1 0 -16.0 0zM386.8 1114.6a8.0 8.0 0 1 0 16.0 0a8.0 8.0 0 1 0 -16.0 0zM379.3 1120.6a8.0 8.0 0 1 0 16.0 0a8.0 8.0 0 1 0 -16.0 0zM371.8 1126.4a8.0 8.0 0 1 0 16.0 0a8.0 8.0 0 1 0 -16.0 0zM364.3 1132.3a8.0 8.0 0 1 0 16.0 0a8.0 8.0 0 1 0 -16.0 0zM356.8 1138.2a8.0 8.0 0 1 0 16.0 0a8.0 8.0 0 1 0 -16.0 0zM349.4 1144.1a8.0 8.0 0 1 0 16.0 0a8.0 8.0 0 1 0 -16.0 0zM342.1 1150.3a8.0 8.0 0 1 0 16.0 0a8.0 8.0 0 1 0 -16.0 0zM334.9 1156.5a8.0 8.0 0 1 0 16.0 0a8.0 8.0 0 1 0 -16.0 0zM327.8 1162.9a8.0 8.0 0 1 0 16.0 0a8.0 8.0 0 1 0 -16.0 0zM320.7 1169.2a8.0 8.0 0 1 0 16.0 0a8.0 8.0 0 1 0 -16.0 0zM313.6 1175.7a8.0 8.0 0 1 0 16.0 0a8.0 8.0 0 1 0 -16.0 0zM306.6 1182.0a8.0 8.0 0 1 0 16.0 0a8.0 8.0 0 1 0 -16.0 0zM299.4 1188.3a8.0 8.0 0 1 0 16.0 0a8.0 8.0 0 1 0 -16.0 0zM292.1 1194.5a8.0 8.0 0 1 0 16.0 0a8.0 8.0 0 1 0 -16.0 0zM284.8 1200.5a8.0 8.0 0 1 0 16.0 0a8.0 8.0 0 1 0 -16.0 0zM277.2 1206.4a8.0 8.0 0 1 0 16.0 0a8.0 8.0 0 1 0 -16.0 0zM269.5 1212.0a8.0 8.0 0 1 0 16.0 0a8.0 8.0 0 1 0 -16.0 0zM261.6 1217.4a8.0 8.0 0 1 0 16.0 0a8.0 8.0 0 1 0 -16.0 0zM253.6 1222.5a8.0 8.0 0 1 0 16.0 0a8.0 8.0 0 1 0 -16.0 0zM245.4 1227.3a8.0 8.0 0 1 0 16.0 0a8.0 8.0 0 1 0 -16.0 0zM237.0 1231.8a8.0 8.0 0 1 0 16.0 0a8.0 8.0 0 1 0 -16.0 0zM228.4 1235.9a8.0 8.0 0 1 0 16.0 0a8.0 8.0 0 1 0 -16.0 0zM219.7 1239.8a8.0 8.0 0 1 0 16.0 0a8.0 8.0 0 1 0 -16.0 0zM210.9 1243.5a8.0 8.0 0 1 0 16.0 0a8.0 8.0 0 1 0 -16.0 0zM202.0 1247.0a8.0 8.0 0 1 0 16.0 0a8.0 8.0 0 1 0 -16.0 0zM193.2 1250.6a8.0 8.0 0 1 0 16.0 0a8.0 8.0 0 1 0 -16.0 0zM184.4 1254.2a8.0 8.0 0 1 0 16.0 0a8.0 8.0 0 1 0 -16.0 0zM175.6 1258.0a8.0 8.0 0 1 0 16.0 0a8.0 8.0 0 1 0 -16.0 0zM167.0 1262.0a8.0 8.0 0 1 0 16.0 0a8.0 8.0 0 1 0 -16.0 0z" fill="#F14040"/>
<path d="M178.0 1268.1l9.15 15.85h-18.3zM182.4 1259.6l9.15 15.85h-18.3zM186.8 1251.2l9.15 15.85h-18.3zM191.2 1242.8l9.15 15.85h-18.3zM195.7 1234.5l9.15 15.85h-18.3zM200.3 1226.1l9.15 15.85h-18.3zM205.0 1217.8l9.15 15.85h-18.3zM209.7 1209.6l9.15 15.85h-18.3zM214.5 1201.4l9.15 15.85h-18.3zM219.3 1193.2l9.15 15.85h-18.3zM224.2 1185.0l9.15 15.85h-18.3zM229.1 1176.9l9.15 15.85h-18.3zM234.2 1168.9l9.15 15.85h-18.3zM239.3 1160.8l9.15 15.85h-18.3zM244.4 1152.8l9.15 15.85h-18.3zM249.6 1144.9l9.15 15.85h-18.3zM254.9 1137.0l9.15 15.85h-18.3zM260.3 1129.2l9.15 15.85h-18.3zM265.7 1121.4l9.15 15.85h-18.3zM271.2 1113.6l9.15 15.85h-18.3zM276.8 1105.9l9.15 15.85h-18.3zM282.4 1098.2l9.15 15.85h-18.3zM288.1 1090.6l9.15 15.85h-18.3zM293.9 1083.1l9.15 15.85h-18.3zM299.7 1075.6l9.15 15.85h-18.3zM305.7 1068.2l9.15 15.85h-18.3zM311.7 1060.8l9.15 15.85h-18.3zM317.7 1053.5l9.15 15.85h-18.3zM323.9 1046.2l9.15 15.85h-18.3zM330.1 1039.0l9.15 15.85h-18.3zM336.4 1031.9l9.15 15.85h-18.3zM342.8 1024.9l9.15 15.85h-18.3zM349.2 1017.9l9.15 15.85h-18.3zM355.7 1011.0l9.15 15.85h-18.3zM362.3 1004.1l9.15 15.85h-18.3zM369.0 997.3l9.15 15.85h-18.3zM375.7 990.6l9.15 15.85h-18.3zM382.6 984.0l9.15 15.85h-18.3zM389.5 977.5l9.15 15.85h-18.3zM396.4 971.0l9.15 15.85h-18.3zM403.5 964.7l9.15 15.85h-18.3zM410.6 958.4l9.15 15.85h-18.3zM417.8 952.2l9.15 15.85h-18.3zM425.1 946.0l9.15 15.85h-18.3zM432.4 940.0l9.15 15.85h-18.3zM439.8 934.0l9.15 15.85h-18.3zM447.3 928.2l9.15 15.85h-18.3zM454.8 922.3l9.15 15.85h-18.3zM462.4 916.6l9.15 15.85h-18.3zM470.1 911.0l9.15 15.85h-18.3zM477.8 905.4l9.15 15.85h-18.3zM485.5 900.0l9.15 15.85h-18.3zM493.4 894.6l9.15 15.85h-18.3zM501.2 889.2l9.15 15.85h-18.3zM509.2 884.0l9.15 15.85h-18.3zM517.2 878.9l9.15 15.85h-18.3zM525.2 873.8l9.15 15.85h-18.3zM533.3 868.8l9.15 15.85h-18.3zM541.4 863.9l9.15 15.85h-18.3zM549.6 859.0l9.15 15.85h-18.3zM557.8 854.3l9.15 15.85h-18.3zM566.1 849.6l9.15 15.85h-18.3zM574.4 845.0l9.15 15.85h-18.3zM582.8 840.5l9.15 15.85h-18.3zM591.2 836.0l9.15 15.85h-18.3zM599.6 831.7l9.15 15.85h-18.3zM608.1 827.4l9.15 15.85h-18.3zM616.6 823.1l9.15 15.85h-18.3zM625.2 819.0l9.15 15.85h-18.3zM633.8 814.9l9.15 15.85h-18.3zM642.4 810.9l9.15 15.85h-18.3zM651.1 807.0l9.15 15.85h-18.3zM659.8 803.2l9.15 15.85h-18.3zM668.5 799.4l9.15 15.85h-18.3zM677.2 795.7l9.15 15.85h-18.3zM686.0 792.1l9.15 15.85h-18.3zM686.0 792.1l9.15 15.85h-18.3zM682.4 800.9l9.15 15.85h-18.3zM678.5 809.5l9.15 15.85h-18.3zM674.3 818.1l9.15 15.85h-18.3zM670.0 826.5l9.15 15.85h-18.3zM665.4 834.8l9.15 15.85h-18.3zM660.6 843.1l9.15 15.85h-18.3zM655.7 851.2l9.15 15.85h-18.3zM650.6 859.2l9.15 15.85h-18.3zM645.4 867.2l9.15 15.85h-18.3zM640.1 875.0l9.15 15.85h-18.3zM634.6 882.8l9.15 15.85h-18.3zM629.1 890.5l9.15 15.85h-18.3zM623.5 898.2l9.15 15.85h-18.3zM617.8 905.9l9.15 15.85h-18.3zM612.1 913.5l9.15 15.85h-18.3zM606.4 921.0l9.15 15.85h-18.3zM600.7 928.6l9.15 15.85h-18.3zM594.9 936.2l9.15 15.85h-18.3zM589.2 943.8l9.15 15.85h-18.3zM583.5 951.4l9.15 15.85h-18.3zM577.8 959.0l9.15 15.85h-18.3zM572.1 966.6l9.15 15.85h-18.3zM566.4 974.2l9.15 15.85h-18.3zM560.7 981.8l9.15 15.85h-18.3zM555.0 989.3l9.15 15.85h-18.3zM549.2 996.9l9.15 15.85h-18.3zM543.4 1004.4l9.15 15.85h-18.3zM537.6 1011.9l9.15 15.85h-18.3zM531.7 1019.4l9.15 15.85h-18.3zM525.7 1026.8l9.15 15.85h-18.3zM519.7 1034.2l9.15 15.85h-18.3zM513.6 1041.4l9.15 15.85h-18.3zM507.4 1048.7l9.15 15.85h-18.3zM501.2 1055.8l9.15 15.85h-18.3zM494.8 1062.9l9.15 15.85h-18.3zM488.3 1069.8l9.15 15.85h-18.3zM481.7 1076.7l9.15 15.85h-18.3zM475.0 1083.4l9.15 15.85h-18.3zM468.2 1090.0l9.15 15.85h-18.3zM461.3 1096.5l9.15 15.85h-18.3zM454.2 1102.9l9.15 15.85h-18.3zM447.1 1109.1l9.15 15.85h-18.3zM439.8 1115.3l9.15 15.85h-18.3zM432.5 1121.3l9.15 15.85h-18.3zM425.1 1127.2l9.15 15.85h-18.3zM417.6 1133.1l9.15 15.85h-18.3zM410.0 1138.8l9.15 15.85h-18.3zM402.3 1144.4l9.15 15.85h-18.3zM394.6 1149.9l9.15 15.85h-18.3zM386.7 1155.3l9.15 15.85h-18.3zM378.9 1160.6l9.15 15.85h-18.3zM370.9 1165.8l9.15 15.85h-18.3zM362.9 1171.0l9.15 15.85h-18.3zM354.9 1176.0l9.15 15.85h-18.3zM346.8 1181.0l9.15 15.85h-18.3zM338.7 1185.9l9.15 15.85h-18.3zM330.5 1190.7l9.15 15.85h-18.3zM322.2 1195.5l9.15 15.85h-18.3zM314.0 1200.1l9.15 15.85h-18.3zM305.7 1204.7l9.15 15.85h-18.3zM297.3 1209.3l9.15 15.85h-18.3zM288.9 1213.8l9.15 15.85h-18.3zM280.5 1218.2l9.15 15.85h-18.3zM272.1 1222.6l9.15 15.85h-18.3zM263.6 1226.9l9.15 15.85h-18.3zM255.1 1231.2l9.15 15.85h-18.3zM246.6 1235.4l9.15 15.85h-18.3zM238.1 1239.6l9.15 15.85h-18.3zM229.6 1243.7l9.15 15.85h-18.3zM221.0 1247.9l9.15 15.85h-18.3zM212.4 1251.9l9.15 15.85h-18.3zM203.8 1256.0l9.15 15.85h-18.3zM195.2 1260.0l9.15 15.85h-18.3zM186.6 1264.1l9.15 15.85h-18.3zM178.0 1268.1l9.15 15.85h-18.3z" fill="#1A6FDF"/>
<path d="M166.8 1268.1h18.3l-9.15 15.85zM171.4 1259.8h18.3l-9.15 15.85zM176.0 1251.5h18.3l-9.15 15.85zM180.6 1243.2h18.3l-9.15 15.85zM185.3 1235.0h18.3l-9.15 15.85zM190.0 1226.8h18.3l-9.15 15.85zM194.8 1218.6h18.3l-9.15 15.85zM199.5 1210.4h18.3l-9.15 15.85zM204.4 1202.2h18.3l-9.15 15.85zM209.2 1194.1h18.3l-9.15 15.85zM214.1 1186.0h18.3l-9.15 15.85zM219.1 1177.9h18.3l-9.15 15.85zM224.1 1169.9h18.3l-9.15 15.85zM229.1 1161.9h18.3l-9.15 15.85zM234.2 1153.9h18.3l-9.15 15.85zM239.3 1145.9h18.3l-9.15 15.85zM244.5 1138.0h18.3l-9.15 15.85zM249.7 1130.1h18.3l-9.15 15.85zM255.0 1122.2h18.3l-9.15 15.85zM260.3 1114.4h18.3l-9.15 15.85zM265.7 1106.6h18.3l-9.15 15.85zM271.1 1098.8h18.3l-9.15 15.85zM276.6 1091.1h18.3l-9.15 15.85zM282.1 1083.4h18.3l-9.15 15.85zM287.7 1075.7h18.3l-9.15 15.85zM293.3 1068.1h18.3l-9.15 15.85zM299.1 1060.6h18.3l-9.15 15.85zM304.8 1053.1h18.3l-9.15 15.85zM310.7 1045.6h18.3l-9.15 15.85zM316.6 1038.2h18.3l-9.15 15.85zM322.6 1030.9h18.3l-9.15 15.85zM328.7 1023.6h18.3l-9.15 15.85zM334.8 1016.4h18.3l-9.15 15.85zM341.0 1009.3h18.3l-9.15 15.85zM347.4 1002.2h18.3l-9.15 15.85zM353.7 995.2h18.3l-9.15 15.85zM360.2 988.3h18.3l-9.15 15.85zM366.8 981.5h18.3l-9.15 15.85zM373.5 974.8h18.3l-9.15 15.85zM380.2 968.1h18.3l-9.15 15.85zM387.1 961.6h18.3l-9.15 15.85zM394.0 955.1h18.3l-9.15 15.85zM401.0 948.8h18.3l-9.15 15.85zM408.2 942.6h18.3l-9.15 15.85zM415.4 936.5h18.3l-9.15 15.85zM422.7 930.5h18.3l-9.15 15.85zM430.1 924.6h18.3l-9.15 15.85zM437.6 918.8h18.3l-9.15 15.85zM445.2 913.1h18.3l-9.15 15.85zM452.9 907.5h18.3l-9.15 15.85zM460.6 902.1h18.3l-9.15 15.85zM468.4 896.7h18.3l-9.15 15.85zM476.3 891.5h18.3l-9.15 15.85zM484.3 886.3h18.3l-9.15 15.85zM492.3 881.3h18.3l-9.15 15.85zM500.4 876.4h18.3l-9.15 15.85zM508.5 871.5h18.3l-9.15 15.85zM516.7 866.8h18.3l-9.15 15.85zM525.0 862.2h18.3l-9.15 15.85zM533.3 857.7h18.3l-9.15 15.85zM541.7 853.3h18.3l-9.15 15.85zM550.2 848.9h18.3l-9.15 15.85zM558.6 844.7h18.3l-9.15 15.85zM567.2 840.6h18.3l-9.15 15.85zM575.7 836.6h18.3l-9.15 15.85zM584.4 832.7h18.3l-9.15 15.85zM593.0 828.8h18.3l-9.15 15.85zM601.7 825.1h18.3l-9.15 15.85zM610.5 821.5h18.3l-9.15 15.85zM619.3 818.0h18.3l-9.15 15.85zM628.1 814.6h18.3l-9.15 15.85zM637.0 811.2h18.3l-9.15 15.85zM645.9 808.0h18.3l-9.15 15.85zM654.8 804.9h18.3l-9.15 15.85zM663.8 801.9h18.3l-9.15 15.85zM672.8 799.0h18.3l-9.15 15.85zM681.9 796.2h18.3l-9.15 15.85zM691.0 793.6h18.3l-9.15 15.85zM700.1 791.0h18.3l-9.15 15.85zM709.3 788.6h18.3l-9.15 15.85zM718.4 786.2h18.3l-9.15 15.85zM727.6 784.0h18.3l-9.15 15.85zM736.9 781.9h18.3l-9.15 15.85zM746.1 780.0h18.3l-9.15 15.85zM746.2 780.0h18.3l-9.15 15.85zM741.1 788.0h18.3l-9.15 15.85zM736.0 795.9h18.3l-9.15 15.85zM731.0 804.0h18.3l-9.15 15.85zM726.0 812.0h18.3l-9.15 15.85zM721.0 820.0h18.3l-9.15 15.85zM716.1 828.1h18.3l-9.15 15.85zM711.1 836.2h18.3l-9.15 15.85zM706.2 844.3h18.3l-9.15 15.85zM701.3 852.3h18.3l-9.15 15.85zM696.4 860.4h18.3l-9.15 15.85zM691.5 868.5h18.3l-9.15 15.85zM686.5 876.6h18.3l-9.15 15.85zM681.6 884.6h18.3l-9.15 15.85zM676.6 892.7h18.3l-9.15 15.85zM671.6 900.7h18.3l-9.15 15.85zM666.6 908.7h18.3l-9.15 15.85zM661.5 916.7h18.3l-9.15 15.85zM656.4 924.6h18.3l-9.15 15.85zM651.2 932.6h18.3l-9.15 15.85zM646.0 940.5h18.3l-9.15 15.85zM640.7 948.3h18.3l-9.15 15.85zM635.4 956.1h18.3l-9.15 15.85zM630.0 963.9h18.3l-9.15 15.85zM624.5 971.6h18.3l-9.15 15.85zM619.0 979.3h18.3l-9.15 15.85zM613.4 986.9h18.3l-9.15 15.85zM607.7 994.4h18.3l-9.15 15.85zM601.9 1001.9h18.3l-9.15 15.85zM596.0 1009.3h18.3l-9.15 15.85zM590.0 1016.6h18.3l-9.15 15.85zM583.9 1023.9h18.3l-9.15 15.85zM577.7 1031.0h18.3l-9.15 15.85zM571.4 1038.0h18.3l-9.15 15.85zM565.0 1045.0h18.3l-9.15 15.85zM558.4 1051.8h18.3l-9.15 15.85zM551.7 1058.5h18.3l-9.15 15.85zM545.0 1065.1h18.3l-9.15 15.85zM538.1 1071.6h18.3l-9.15 15.85zM531.0 1077.9h18.3l-9.15 15.85zM523.8 1084.1h18.3l-9.15 15.85zM516.6 1090.1h18.3l-9.15 15.85zM509.1 1096.0h18.3l-9.15 15.85zM501.6 1101.7h18.3l-9.15 15.85zM493.9 1107.2h18.3l-9.15 15.85zM486.2 1112.6h18.3l-9.15 15.85zM478.4 1118.0h18.3l-9.15 15.85zM470.5 1123.2h18.3l-9.15 15.85zM462.5 1128.3h18.3l-9.15 15.85zM454.5 1133.3h18.3l-9.15 15.85zM446.5 1138.3h18.3l-9.15 15.85zM438.4 1143.2h18.3l-9.15 15.85zM430.3 1148.2h18.3l-9.15 15.85zM422.2 1153.1h18.3l-9.15 15.85zM414.1 1158.0h18.3l-9.15 15.85zM406.1 1162.9h18.3l-9.15 15.85zM398.0 1167.8h18.3l-9.15 15.85zM389.9 1172.7h18.3l-9.15 15.85zM381.8 1177.6h18.3l-9.15 15.85zM373.7 1182.5h18.3l-9.15 15.85zM365.6 1187.3h18.3l-9.15 15.85zM357.5 1192.2h18.3l-9.15 15.85zM349.4 1197.1h18.3l-9.15 15.85zM341.3 1202.0h18.3l-9.15 15.85zM333.1 1206.8h18.3l-9.15 15.85zM325.0 1211.6h18.3l-9.15 15.85zM316.9 1216.4h18.3l-9.15 15.85zM308.7 1221.2h18.3l-9.15 15.85zM300.4 1225.7h18.3l-9.15 15.85zM292.0 1230.1h18.3l-9.15 15.85zM283.5 1234.3h18.3l-9.15 15.85zM274.9 1238.2h18.3l-9.15 15.85zM266.1 1241.7h18.3l-9.15 15.85zM257.2 1244.8h18.3l-9.15 15.85zM248.1 1247.4h18.3l-9.15 15.85zM238.9 1249.5h18.3l-9.15 15.85zM229.5 1251.0h18.3l-9.15 15.85zM220.1 1252.0h18.3l-9.15 15.85zM210.7 1252.8h18.3l-9.15 15.85zM201.3 1253.9h18.3l-9.15 15.85zM192.0 1255.6h18.3l-9.15 15.85zM183.0 1258.4h18.3l-9.15 15.85zM174.5 1262.5h18.3l-9.15 15.85zM166.8 1268.1h18.3l-9.15 15.85z" fill="#37AD6B"/>
</g>
<rect x="105.2" y="725.9" width="728.0" height="585.0" fill="none" stroke="#000" stroke-width="1.8"/>
<path d="M105.2 1257.7h12M105.2 1204.5h6M105.2 1151.4h12M105.2 1098.2h6M105.2 1045.0h12M105.2 991.8h6M105.2 938.6h12M105.2 885.4h6M105.2 832.3h12M105.2 779.1h6M287.2 1310.9v-12M469.2 1310.9v-12M651.2 1310.9v-12" stroke="#000" stroke-width="1.8" fill="none"/>
<g clip-path="url(#clipd)">
<path d="M1044.7 1246.7h14.6v14.6h-14.6zM1048.9 1238.1h14.6v14.6h-14.6zM1053.1 1229.6h14.6v14.6h-14.6zM1057.4 1221.1h14.6v14.6h-14.6zM1061.7 1212.6h14.6v14.6h-14.6zM1066.1 1204.2h14.6v14.6h-14.6zM1070.6 1195.7h14.6v14.6h-14.6zM1075.1 1187.4h14.6v14.6h-14.6zM1079.7 1179.0h14.6v14.6h-14.6zM1084.4 1170.7h14.6v14.6h-14.6zM1089.1 1162.4h14.6v14.6h-14.6zM1093.9 1154.2h14.6v14.6h-14.6zM1098.8 1146.0h14.6v14.6h-14.6zM1103.7 1137.9h14.6v14.6h-14.6zM1108.8 1129.8h14.6v14.6h-14.6zM1113.9 1121.8h14.6v14.6h-14.6zM1119.1 1113.8h14.6v14.6h-14.6zM1124.4 1105.9h14.6v14.6h-14.6zM1129.8 1098.0h14.6v14.6h-14.6zM1135.2 1090.2h14.6v14.6h-14.6zM1140.8 1082.5h14.6v14.6h-14.6zM1146.4 1074.8h14.6v14.6h-14.6zM1152.2 1067.2h14.6v14.6h-14.6zM1158.1 1059.7h14.6v14.6h-14.6zM1164.0 1052.2h14.6v14.6h-14.6zM1170.1 1044.9h14.6v14.6h-14.6zM1176.2 1037.6h14.6v14.6h-14.6zM1182.5 1030.5h14.6v14.6h-14.6zM1188.9 1023.4h14.6v14.6h-14.6zM1195.4 1016.4h14.6v14.6h-14.6zM1202.0 1009.6h14.6v14.6h-14.6zM1208.7 1002.8h14.6v14.6h-14.6zM1215.5 996.2h14.6v14.6h-14.6zM1222.5 989.7h14.6v14.6h-14.6zM1229.6 983.3h14.6v14.6h-14.6zM1236.8 977.0h14.6v14.6h-14.6zM1244.1 970.9h14.6v14.6h-14.6zM1251.5 964.9h14.6v14.6h-14.6zM1259.0 959.1h14.6v14.6h-14.6zM1266.7 953.5h14.6v14.6h-14.6zM1274.5 948.0h14.6v14.6h-14.6zM1282.4 942.6h14.6v14.6h-14.6zM1290.4 937.5h14.6v14.6h-14.6zM1298.5 932.5h14.6v14.6h-14.6zM1306.7 927.7h14.6v14.6h-14.6zM1315.0 923.0h14.6v14.6h-14.6zM1323.4 918.5h14.6v14.6h-14.6zM1331.9 914.1h14.6v14.6h-14.6zM1340.4 909.9h14.6v14.6h-14.6zM1349.0 905.8h14.6v14.6h-14.6zM1357.7 901.8h14.6v14.6h-14.6zM1366.4 898.0h14.6v14.6h-14.6zM1375.2 894.2h14.6v14.6h-14.6zM1384.0 890.6h14.6v14.6h-14.6zM1392.8 887.1h14.6v14.6h-14.6zM1401.7 883.7h14.6v14.6h-14.6zM1410.6 880.3h14.6v14.6h-14.6zM1419.6 877.1h14.6v14.6h-14.6zM1428.6 873.9h14.6v14.6h-14.6zM1437.6 870.8h14.6v14.6h-14.6zM1446.6 867.7h14.6v14.6h-14.6zM1455.6 864.8h14.6v14.6h-14.6zM1464.7 861.8h14.6v14.6h-14.6zM1473.8 859.0h14.6v14.6h-14.6zM1482.9 856.2h14.6v14.6h-14.6zM1492.1 853.5h14.6v14.6h-14.6zM1501.2 850.9h14.6v14.6h-14.6zM1510.4 848.4h14.6v14.6h-14.6zM1519.6 845.9h14.6v14.6h-14.6zM1528.8 843.6h14.6v14.6h-14.6zM1538.1 841.3h14.6v14.6h-14.6zM1547.4 839.2h14.6v14.6h-14.6zM1556.7 837.2h14.6v14.6h-14.6zM1566.0 835.2h14.6v14.6h-14.6zM1575.4 833.4h14.6v14.6h-14.6zM1584.7 831.7h14.6v14.6h-14.6zM1594.1 830.1h14.6v14.6h-14.6zM1603.6 828.7h14.6v14.6h-14.6zM1613.0 827.4h14.6v14.6h-14.6zM1613.0 827.4h14.6v14.6h-14.6zM1609.5 836.2h14.6v14.6h-14.6zM1605.6 844.8h14.6v14.6h-14.6zM1601.3 853.3h14.6v14.6h-14.6zM1596.7 861.5h14.6v14.6h-14.6zM1591.8 869.6h14.6v14.6h-14.6zM1586.8 877.6h14.6v14.6h-14.6zM1581.6 885.6h14.6v14.6h-14.6zM1576.4 893.4h14.6v14.6h-14.6zM1571.1 901.3h14.6v14.6h-14.6zM1565.9 909.2h14.6v14.6h-14.6zM1560.7 917.1h14.6v14.6h-14.6zM1555.7 925.2h14.6v14.6h-14.6zM1550.8 933.3h14.6v14.6h-14.6zM1546.0 941.4h14.6v14.6h-14.6zM1541.3 949.6h14.6v14.6h-14.6zM1536.6 957.8h14.6v14.6h-14.6zM1531.8 966.0h14.6v14.6h-14.6zM1527.0 974.1h14.6v14.6h-14.6zM1522.0 982.2h14.6v14.6h-14.6zM1517.0 990.2h14.6v14.6h-14.6zM1511.7 998.1h14.6v14.6h-14.6zM1506.3 1005.8h14.6v14.6h-14.6zM1500.5 1013.4h14.6v14.6h-14.6zM1494.6 1020.7h14.6v14.6h-14.6zM1488.4 1027.9h14.6v14.6h-14.6zM1482.0 1034.9h14.6v14.6h-14.6zM1475.4 1041.6h14.6v14.6h-14.6zM1468.6 1048.2h14.6v14.6h-14.6zM1461.6 1054.6h14.6v14.6h-14.6zM1454.5 1060.9h14.6v14.6h-14.6zM1447.2 1066.9h14.6v14.6h-14.6zM1439.8 1072.8h14.6v14.6h-14.6zM1432.3 1078.6h14.6v14.6h-14.6zM1424.7 1084.2h14.6v14.6h-14.6zM1417.0 1089.7h14.6v14.6h-14.6zM1409.2 1095.0h14.6v14.6h-14.6zM1401.3 1100.3h14.6v14.6h-14.6zM1393.4 1105.4h14.6v14.6h-14.6zM1385.4 1110.5h14.6v14.6h-14.6zM1377.3 1115.5h14.6v14.6h-14.6zM1369.2 1120.4h14.6v14.6h-14.6zM1361.1 1125.2h14.6v14.6h-14.6zM1352.9 1130.0h14.6v14.6h-14.6zM1344.7 1134.7h14.6v14.6h-14.6zM1336.5 1139.3h14.6v14.6h-14.6zM1328.2 1143.9h14.6v14.6h-14.6zM1319.8 1148.4h14.6v14.6h-14.6zM1311.5 1152.9h14.6v14.6h-14.6zM1303.1 1157.2h14.6v14.6h-14.6zM1294.7 1161.5h14.6v14.6h-14.6zM1286.2 1165.7h14.6v14.6h-14.6zM1277.7 1169.9h14.6v14.6h-14.6zM1269.1 1174.0h14.6v14.6h-14.6zM1260.5 1178.0h14.6v14.6h-14.6zM1251.9 1181.9h14.6v14.6h-14.6zM1243.3 1185.7h14.6v14.6h-14.6zM1234.6 1189.4h14.6v14.6h-14.6zM1225.9 1193.1h14.6v14.6h-14.6zM1217.1 1196.7h14.6v14.6h-14.6zM1208.3 1200.2h14.6v14.6h-14.6zM1199.5 1203.6h14.6v14.6h-14.6zM1190.6 1206.9h14.6v14.6h-14.6zM1181.7 1210.2h14.6v14.6h-14.6zM1172.8 1213.3h14.6v14.6h-14.6zM1163.8 1216.3h14.6v14.6h-14.6zM1154.8 1219.3h14.6v14.6h-14.6zM1145.8 1222.1h14.6v14.6h-14.6zM1136.7 1224.9h14.6v14.6h-14.6zM1127.7 1227.6h14.6v14.6h-14.6zM1118.6 1230.1h14.6v14.6h-14.6zM1109.4 1232.6h14.6v14.6h-14.6zM1100.2 1234.9h14.6v14.6h-14.6zM1091.0 1237.1h14.6v14.6h-14.6zM1081.8 1239.3h14.6v14.6h-14.6zM1072.6 1241.3h14.6v14.6h-14.6zM1063.3 1243.2h14.6v14.6h-14.6zM1054.0 1245.0h14.6v14.6h-14.6zM1044.7 1246.7h14.6v14.6h-14.6z" fill="#515151"/>
<path d="M1043.7 1251.0a8.0 8.0 0 1 0 16.0 0a8.0 8.0 0 1 0 -16.0 0zM1048.2 1242.6a8.0 8.0 0 1 0 16.0 0a8.0 8.0 0 1 0 -16.0 0zM1052.7 1234.2a8.0 8.0 0 1 0 16.0 0a8.0 8.0 0 1 0 -16.0 0zM1057.2 1225.8a8.0 8.0 0 1 0 16.0 0a8.0 8.0 0 1 0 -16.0 0zM1061.8 1217.4a8.0 8.0 0 1 0 16.0 0a8.0 8.0 0 1 0 -16.0 0zM1066.4 1209.0a8.0 8.0 0 1 0 16.0 0a8.0 8.0 0 1 0 -16.0 0zM1071.1 1200.7a8.0 8.0 0 1 0 16.0 0a8.0 8.0 0 1 0 -16.0 0zM1075.8 1192.4a8.0 8.0 0 1 0 16.0 0a8.0 8.0 0 1 0 -16.0 0zM1080.6 1184.1a8.0 8.0 0 1 0 16.0 0a8.0 8.0 0 1 0 -16.0 0zM1085.4 1175.9a8.0 8.0 0 1 0 16.0 0a8.0 8.0 0 1 0 -16.0 0zM1090.2 1167.7a8.0 8.0 0 1 0 16.0 0a8.0 8.0 0 1 0 -16.0 0zM1095.1 1159.5a8.0 8.0 0 1 0 16.0 0a8.0 8.0 0 1 0 -16.0 0zM1100.1 1151.3a8.0 8.0 0 1 0 16.0 0a8.0 8.0 0 1 0 -16.0 0zM1105.1 1143.2a8.0 8.0 0 1 0 16.0 0a8.0 8.0 0 1 0 -16.0 0zM1110.2 1135.1a8.0 8.0 0 1 0 16.0 0a8.0 8.0 0 1 0 -16.0 0zM1115.3 1127.1a8.0 8.0 0 1 0 16.0 0a8.0 8.0 0 1 0 -16.0 0zM1120.5 1119.1a8.0 8.0 0 1 0 16.0 0a8.0 8.0 0 1 0 -16.0 0zM1125.8 1111.2a8.0 8.0 0 1 0 16.0 0a8.0 8.0 0 1 0 -16.0 0zM1131.2 1103.3a8.0 8.0 0 1 0 16.0 0a8.0 8.0 0 1 0 -16.0 0zM1136.6 1095.4a8.0 8.0 0 1 0 16.0 0a8.0 8.0 0 1 0 -16.0 0zM1142.1 1087.6a8.0 8.0 0 1 0 16.0 0a8.0 8.0 0 1 0 -16.0 0zM1147.7 1079.9a8.0 8.0 0 1 0 16.0 0a8.0 8.0 0 1 0 -16.0 0zM1153.3 1072.2a8.0 8.0 0 1 0 16.0 0a8.0 8.0 0 1 0 -16.0 0zM1159.1 1064.5a8.0 8.0 0 1 0 16.0 0a8.0 8.0 0 1 0 -16.0 0zM1164.9 1057.0a8.0 8.0 0 1 0 16.0 0a8.0 8.0 0 1 0 -16.0 0zM1170.8 1049.5a8.0 8.0 0 1 0 16.0 0a8.0 8.0 0 1 0 -16.0 0zM1176.8 1042.1a8.0 8.0 0 1 0 16.0 0a8.0 8.0 0 1 0 -16.0 0zM1182.9 1034.7a8.0 8.0 0 1 0 16.0 0a8.0 8.0 0 1 0 -16.0 0zM1189.1 1027.5a8.0 8.0 0 1 0 16.0 0a8.0 8.0 0 1 0 -16.0 0zM1195.3 1020.3a8.0 8.0 0 1 0 16.0 0a8.0 8.0 0 1 0 -16.0 0zM1201.7 1013.2a8.0 8.0 0 1 0 16.0 0a8.0 8.0 0 1 0 -16.0 0zM1208.2 1006.2a8.0 8.0 0 1 0 16.0 0a8.0 8.0 0 1 0 -16.0 0zM1214.8 999.3a8.0 8.0 0 1 0 16.0 0a8.0 8.0 0 1 0 -16.0 0zM1221.5 992.4a8.0 8.0 0 1 0 16.0 0a8.0 8.0 0 1 0 -16.0 0zM1228.3 985.7a8.0 8.0 0 1 0 16.0 0a8.0 8.0 0 1 0 -16.0 0zM1235.2 979.1a8.0 8.0 0 1 0 16.0 0a8.0 8.0 0 1 0 -16.0 0zM1242.2 972.7a8.0 8.0 0 1 0 16.0 0a8.0 8.0 0 1 0 -16.0 0zM1249.3 966.3a8.0 8.0 0 1 0 16.0 0a8.0 8.0 0 1 0 -16.0 0zM1256.5 960.1a8.0 8.0 0 1 0 16.0 0a8.0 8.0 0 1 0 -16.0 0zM1263.8 954.0a8.0 8.0 0 1 0 16.0 0a8.0 8.0 0 1 0 -16.0 0zM1271.3 948.0a8.0 8.0 0 1 0 16.0 0a8.0 8.0 0 1 0 -16.0 0zM1278.8 942.2a8.0 8.0 0 1 0 16.0 0a8.0 8.0 0 1 0 -16.0 0zM1286.5 936.5a8.0 8.0 0 1 0 16.0 0a8.0 8.0 0 1 0 -16.0 0zM1294.3 930.9a8.0 8.0 0 1 0 16.0 0a8.0 8.0 0 1 0 -16.0 0zM1302.1 925.5a8.0 8.0 0 1 0 16.0 0a8.0 8.0 0 1 0 -16.0 0zM1310.1 920.3a8.0 8.0 0 1 0 16.0 0a8.0 8.0 0 1 0 -16.0 0zM1318.2 915.2a8.0 8.0 0 1 0 16.0 0a8.0 8.0 0 1 0 -16.0 0zM1326.3 910.2a8.0 8.0 0 1 0 16.0 0a8.0 8.0 0 1 0 -16.0 0zM1334.5 905.4a8.0 8.0 0 1 0 16.0 0a8.0 8.0 0 1 0 -16.0 0zM1342.8 900.7a8.0 8.0 0 1 0 16.0 0a8.0 8.0 0 1 0 -16.0 0zM1351.2 896.1a8.0 8.0 0 1 0 16.0 0a8.0 8.0 0 1 0 -16.0 0zM1359.7 891.6a8.0 8.0 0 1 0 16.0 0a8.0 8.0 0 1 0 -16.0 0zM1368.2 887.3a8.0 8.0 0 1 0 16.0 0a8.0 8.0 0 1 0 -16.0 0zM1376.7 883.0a8.0 8.0 0 1 0 16.0 0a8.0 8.0 0 1 0 -16.0 0zM1385.3 878.9a8.0 8.0 0 1 0 16.0 0a8.0 8.0 0 1 0 -16.0 0zM1394.0 874.9a8.0 8.0 0 1 0 16.0 0a8.0 8.0 0 1 0 -16.0 0zM1402.7 871.0a8.0 8.0 0 1 0 16.0 0a8.0 8.0 0 1 0 -16.0 0zM1411.4 867.2a8.0 8.0 0 1 0 16.0 0a8.0 8.0 0 1 0 -16.0 0zM1420.2 863.5a8.0 8.0 0 1 0 16.0 0a8.0 8.0 0 1 0 -16.0 0zM1429.1 859.9a8.0 8.0 0 1 0 16.0 0a8.0 8.0 0 1 0 -16.0 0zM1437.9 856.4a8.0 8.0 0 1 0 16.0 0a8.0 8.0 0 1 0 -16.0 0zM1446.8 853.0a8.0 8.0 0 1 0 16.0 0a8.0 8.0 0 1 0 -16.0 0zM1455.8 849.6a8.0 8.0 0 1 0 16.0 0a8.0 8.0 0 1 0 -16.0 0zM1464.8 846.3a8.0 8.0 0 1 0 16.0 0a8.0 8.0 0 1 0 -16.0 0zM1473.7 843.2a8.0 8.0 0 1 0 16.0 0a8.0 8.0 0 1 0 -16.0 0zM1482.8 840.0a8.0 8.0 0 1 0 16.0 0a8.0 8.0 0 1 0 -16.0 0zM1491.8 837.0a8.0 8.0 0 1 0 16.0 0a8.0 8.0 0 1 0 -16.0 0zM1500.9 834.1a8.0 8.0 0 1 0 16.0 0a8.0 8.0 0 1 0 -16.0 0zM1510.0 831.2a8.0 8.0 0 1 0 16.0 0a8.0 8.0 0 1 0 -16.0 0zM1519.1 828.4a8.0 8.0 0 1 0 16.0 0a8.0 8.0 0 1 0 -16.0 0zM1528.3 825.7a8.0 8.0 0 1 0 16.0 0a8.0 8.0 0 1 0 -16.0 0zM1537.5 823.1a8.0 8.0 0 1 0 16.0 0a8.0 8.0 0 1 0 -16.0 0zM1546.7 820.6a8.0 8.0 0 1 0 16.0 0a8.0 8.0 0 1 0 -16.0 0zM1555.9 818.1a8.0 8.0 0 1 0 16.0 0a8.0 8.0 0 1 0 -16.0 0zM1565.1 815.7a8.0 8.0 0 1 0 16.0 0a8.0 8.0 0 1 0 -16.0 0zM1574.4 813.4a8.0 8.0 0 1 0 16.0 0a8.0 8.0 0 1 0 -16.0 0zM1583.7 811.2a8.0 8.0 0 1 0 16.0 0a8.0 8.0 0 1 0 -16.0 0zM1593.0 809.0a8.0 8.0 0 1 0 16.0 0a8.0 8.0 0 1 0 -16.0 0zM1602.3 806.9a8.0 8.0 0 1 0 16.0 0a8.0 8.0 0 1 0 -16.0 0zM1611.6 804.9a8.0 8.0 0 1 0 16.0 0a8.0 8.0 0 1 0 -16.0 0zM1611.6 804.9a8.0 8.0 0 1 0 16.0 0a8.0 8.0 0 1 0 -16.0 0zM1606.8 813.1a8.0 8.0 0 1 0 16.0 0a8.0 8.0 0 1 0 -16.0 0zM1602.1 821.3a8.0 8.0 0 1 0 16.0 0a8.0 8.0 0 1 0 -16.0 0zM1597.3 829.5a8.0 8.0 0 1 0 16.0 0a8.0 8.0 0 1 0 -16.0 0zM1592.5 837.6a8.0 8.0 0 1 0 16.0 0a8.0 8.0 0 1 0 -16.0 0zM1587.7 845.8a8.0 8.0 0 1 0 16.0 0a8.0 8.0 0 1 0 -16.0 0zM1582.8 853.9a8.0 8.0 0 1 0 16.0 0a8.0 8.0 0 1 0 -16.0 0zM1577.9 862.1a8.0 8.0 0 1 0 16.0 0a8.0 8.0 0 1 0 -16.0 0zM1573.0 870.2a8.0 8.0 0 1 0 16.0 0a8.0 8.0 0 1 0 -16.0 0zM1568.1 878.3a8.0 8.0 0 1 0 16.0 0a8.0 8.0 0 1 0 -16.0 0zM1563.1 886.3a8.0 8.0 0 1 0 16.0 0a8.0 8.0 0 1 0 -16.0 0zM1558.0 894.3a8.0 8.0 0 1 0 16.0 0a8.0 8.0 0 1 0 -16.0 0zM1552.9 902.3a8.0 8.0 0 1 0 16.0 0a8.0 8.0 0 1 0 -16.0 0zM1547.8 910.3a8.0 8.0 0 1 0 16.0 0a8.0 8.0 0 1 0 -16.0 0zM1542.6 918.2a8.0 8.0 0 1 0 16.0 0a8.0 8.0 0 1 0 -16.0 0zM1537.4 926.1a8.0 8.0 0 1 0 16.0 0a8.0 8.0 0 1 0 -16.0 0zM1532.1 934.0a8.0 8.0 0 1 0 16.0 0a8.0 8.0 0 1 0 -16.0 0zM1526.7 941.8a8.0 8.0 0 1 0 16.0 0a8.0 8.0 0 1 0 -16.0 0zM1521.3 949.6a8.0 8.0 0 1 0 16.0 0a8.0 8.0 0 1 0 -16.0 0zM1515.8 957.3a8.0 8.0 0 1 0 16.0 0a8.0 8.0 0 1 0 -16.0 0zM1510.2 965.0a8.0 8.0 0 1 0 16.0 0a8.0 8.0 0 1 0 -16.0 0zM1504.5 972.6a8.0 8.0 0 1 0 16.0 0a8.0 8.0 0 1 0 -16.0 0zM1498.8 980.1a8.0 8.0 0 1 0 16.0 0a8.0 8.0 0 1 0 -16.0 0zM1493.0 987.6a8.0 8.0 0 1 0 16.0 0a8.0 8.0 0 1 0 -16.0 0zM1487.1 995.0a8.0 8.0 0 1 0 16.0 0a8.0 8.0 0 1 0 -16.0 0zM1481.1 1002.4a8.0 8.0 0 1 0 16.0 0a8.0 8.0 0 1 0 -16.0 0zM1475.0 1009.6a8.0 8.0 0 1 0 16.0 0a8.0 8.0 0 1 0 -16.0 0zM1468.8 1016.8a8.0 8.0 0 1 0 16.0 0a8.0 8.0 0 1 0 -16.0 0zM1462.6 1023.9a8.0 8.0 0 1 0 16.0 0a8.0 8.0 0 1 0 -16.0 0zM1456.2 1030.9a8.0 8.0 0 1 0 16.0 0a8.0 8.0 0 1 0 -16.0 0zM1449.7 1037.9a8.0 8.0 0 1 0 16.0 0a8.0 8.0 0 1 0 -16.0 0zM1443.1 1044.7a8.0 8.0 0 1 0 16.0 0a8.0 8.0 0 1 0 -16.0 0zM1436.4 1051.4a8.0 8.0 0 1 0 16.0 0a8.0 8.0 0 1 0 -16.0 0zM1429.6 1058.0a8.0 8.0 0 1 0 16.0 0a8.0 8.0 0 1 0 -16.0 0zM1422.7 1064.5a8.0 8.0 0 1 0 16.0 0a8.0 8.0 0 1 0 -16.0 0zM1415.7 1070.8a8.0 8.0 0 1 0 16.0 0a8.0 8.0 0 1 0 -16.0 0zM1408.6 1077.1a8.0 8.0 0 1 0 16.0 0a8.0 8.0 0 1 0 -16.0 0zM1401.3 1083.2a8.0 8.0 0 1 0 16.0 0a8.0 8.0 0 1 0 -16.0 0zM1394.0 1089.2a8.0 8.0 0 1 0 16.0 0a8.0 8.0 0 1 0 -16.0 0zM1386.5 1095.0a8.0 8.0 0 1 0 16.0 0a8.0 8.0 0 1 0 -16.0 0zM1378.9 1100.7a8.0 8.0 0 1 0 16.0 0a8.0 8.0 0 1 0 -16.0 0zM1371.2 1106.2a8.0 8.0 0 1 0 16.0 0a8.0 8.0 0 1 0 -16.0 0zM1363.4 1111.6a8.0 8.0 0 1 0 16.0 0a8.0 8.0 0 1 0 -16.0 0zM1355.5 1116.8a8.0 8.0 0 1 0 16.0 0a8.0 8.0 0 1 0 -16.0 0zM1347.4 1121.8a8.0 8.0 0 1 0 16.0 0a8.0 8.0 0 1 0 -16.0 0zM1339.3 1126.8a8.0 8.0 0 1 0 16.0 0a8.0 8.0 0 1 0 -16.0 0zM1331.2 1131.5a8.0 8.0 0 1 0 16.0 0a8.0 8.0 0 1 0 -16.0 0zM1322.9 1136.2a8.0 8.0 0 1 0 16.0 0a8.0 8.0 0 1 0 -16.0 0zM1314.6 1140.8a8.0 8.0 0 1 0 16.0 0a8.0 8.0 0 1 0 -16.0 0zM1306.3 1145.3a8.0 8.0 0 1 0 16.0 0a8.0 8.0 0 1 0 -16.0 0zM1297.9 1149.7a8.0 8.0 0 1 0 16.0 0a8.0 8.0 0 1 0 -16.0 0zM1289.4 1154.0a8.0 8.0 0 1 0 16.0 0a8.0 8.0 0 1 0 -16.0 0zM1280.9 1158.2a8.0 8.0 0 1 0 16.0 0a8.0 8.0 0 1 0 -16.0 0zM1272.4 1162.4a8.0 8.0 0 1 0 16.0 0a8.0 8.0 0 1 0 -16.0 0zM1263.9 1166.5a8.0 8.0 0 1 0 16.0 0a8.0 8.0 0 1 0 -16.0 0zM1255.4 1170.6a8.0 8.0 0 1 0 16.0 0a8.0 8.0 0 1 0 -16.0 0zM1246.8 1174.7a8.0 8.0 0 1 0 16.0 0a8.0 8.0 0 1 0 -16.0 0zM1238.2 1178.7a8.0 8.0 0 1 0 16.0 0a8.0 8.0 0 1 0 -16.0 0zM1229.6 1182.8a8.0 8.0 0 1 0 16.0 0a8.0 8.0 0 1 0 -16.0 0zM1221.1 1186.8a8.0 8.0 0 1 0 16.0 0a8.0 8.0 0 1 0 -16.0 0zM1212.5 1190.8a8.0 8.0 0 1 0 16.0 0a8.0 8.0 0 1 0 -16.0 0zM1203.9 1194.9a8.0 8.0 0 1 0 16.0 0a8.0 8.0 0 1 0 -16.0 0zM1195.4 1199.0a8.0 8.0 0 1 0 16.0 0a8.0 8.0 0 1 0 -16.0 0zM1186.8 1203.1a8.0 8.0 0 1 0 16.0 0a8.0 8.0 0 1 0 -16.0 0zM1178.3 1207.1a8.0 8.0 0 1 0 16.0 0a8.0 8.0 0 1 0 -16.0 0zM1169.7 1211.1a8.0 8.0 0 1 0 16.0 0a8.0 8.0 0 1 0 -16.0 0zM1161.0 1215.0a8.0 8.0 0 1 0 16.0 0a8.0 8.0 0 1 0 -16.0 0zM1152.4 1218.9a8.0 8.0 0 1 0 16.0 0a8.0 8.0 0 1 0 -16.0 0zM1143.7 1222.6a8.0 8.0 0 1 0 16.0 0a8.0 8.0 0 1 0 -16.0 0zM1134.9 1226.2a8.0 8.0 0 1 0 16.0 0a8.0 8.0 0 1 0 -16.0 0zM1126.1 1229.7a8.0 8.0 0 1 0 16.0 0a8.0 8.0 0 1 0 -16.0 0zM1117.2 1233.0a8.0 8.0 0 1 0 16.0 0a8.0 8.0 0 1 0 -16.0 0zM1108.2 1236.1a8.0 8.0 0 1 0 16.0 0a8.0 8.0 0 1 0 -16.0 0zM1099.2 1239.0a8.0 8.0 0 1 0 16.0 0a8.0 8.0 0 1 0 -16.0 0zM1090.1 1241.7a8.0 8.0 0 1 0 16.0 0a8.0 8.0 0 1 0 -16.0 0zM1081.0 1244.1a8.0 8.0 0 1 0 16.0 0a8.0 8.0 0 1 0 -16.0 0zM1071.7 1246.3a8.0 8.0 0 1 0 16.0 0a8.0 8.0 0 1 0 -16.0 0zM1062.4 1248.1a8.0 8.0 0 1 0 16.0 0a8.0 8.0 0 1 0 -16.0 0zM1053.1 1249.7a8.0 8.0 0 1 0 16.0 0a8.0 8.0 0 1 0 -16.0 0zM1043.7 1251.0a8.0 8.0 0 1 0 16.0 0a8.0 8.0 0 1 0 -16.0 0z" fill="#F14040"/>
<path d="M1048.6 1239.1l9.15 15.85h-18.3zM1053.2 1230.7l9.15 15.85h-18.3zM1057.8 1222.4l9.15 15.85h-18.3zM1062.5 1214.2l9.15 15.85h-18.3zM1067.3 1206.0l9.15 15.85h-18.3zM1072.1 1197.8l9.15 15.85h-18.3zM1077.0 1189.6l9.15 15.85h-18.3zM1081.9 1181.5l9.15 15.85h-18.3zM1086.9 1173.4l9.15 15.85h-18.3zM1091.9 1165.3l9.15 15.85h-18.3zM1097.0 1157.3l9.15 15.85h-18.3zM1102.1 1149.3l9.15 15.85h-18.3zM1107.2 1141.3l9.15 15.85h-18.3zM1112.4 1133.3l9.15 15.85h-18.3zM1117.7 1125.4l9.15 15.85h-18.3zM1122.9 1117.4l9.15 15.85h-18.3zM1128.2 1109.5l9.15 15.85h-18.3zM1133.5 1101.7l9.15 15.85h-18.3zM1138.8 1093.8l9.15 15.85h-18.3zM1144.2 1085.9l9.15 15.85h-18.3zM1149.6 1078.1l9.15 15.85h-18.3zM1155.0 1070.3l9.15 15.85h-18.3zM1160.4 1062.5l9.15 15.85h-18.3zM1165.8 1054.6l9.15 15.85h-18.3zM1171.2 1046.8l9.15 15.85h-18.3zM1176.7 1039.1l9.15 15.85h-18.3zM1182.1 1031.3l9.15 15.85h-18.3zM1187.7 1023.6l9.15 15.85h-18.3zM1193.2 1015.9l9.15 15.85h-18.3zM1198.9 1008.2l9.15 15.85h-18.3zM1204.6 1000.6l9.15 15.85h-18.3zM1210.4 993.1l9.15 15.85h-18.3zM1216.4 985.7l9.15 15.85h-18.3zM1222.4 978.3l9.15 15.85h-18.3zM1228.6 971.1l9.15 15.85h-18.3zM1234.9 964.0l9.15 15.85h-18.3zM1241.3 957.0l9.15 15.85h-18.3zM1247.9 950.2l9.15 15.85h-18.3zM1254.6 943.4l9.15 15.85h-18.3zM1261.5 936.9l9.15 15.85h-18.3zM1268.5 930.4l9.15 15.85h-18.3zM1275.6 924.1l9.15 15.85h-18.3zM1282.8 918.0l9.15 15.85h-18.3zM1290.2 911.9l9.15 15.85h-18.3zM1297.6 906.0l9.15 15.85h-18.3zM1305.2 900.2l9.15 15.85h-18.3zM1312.8 894.6l9.15 15.85h-18.3zM1320.6 889.1l9.15 15.85h-18.3zM1328.4 883.7l9.15 15.85h-18.3zM1336.3 878.4l9.15 15.85h-18.3zM1344.3 873.2l9.15 15.85h-18.3zM1352.3 868.2l9.15 15.85h-18.3zM1360.5 863.3l9.15 15.85h-18.3zM1368.7 858.4l9.15 15.85h-18.3zM1376.9 853.7l9.15 15.85h-18.3zM1385.2 849.1l9.15 15.85h-18.3zM1393.6 844.6l9.15 15.85h-18.3zM1402.0 840.2l9.15 15.85h-18.3zM1410.4 835.8l9.15 15.85h-18.3zM1419.0 831.6l9.15 15.85h-18.3zM1427.5 827.5l9.15 15.85h-18.3zM1436.1 823.4l9.15 15.85h-18.3zM1444.7 819.4l9.15 15.85h-18.3zM1453.4 815.5l9.15 15.85h-18.3zM1462.1 811.7l9.15 15.85h-18.3zM1470.8 808.0l9.15 15.85h-18.3zM1479.6 804.3l9.15 15.85h-18.3zM1488.4 800.7l9.15 15.85h-18.3zM1497.3 797.3l9.15 15.85h-18.3zM1506.2 793.9l9.15 15.85h-18.3zM1515.1 790.5l9.15 15.85h-18.3zM1524.0 787.3l9.15 15.85h-18.3zM1533.0 784.2l9.15 15.85h-18.3zM1542.0 781.1l9.15 15.85h-18.3zM1551.0 778.2l9.15 15.85h-18.3zM1560.1 775.3l9.15 15.85h-18.3zM1569.2 772.5l9.15 15.85h-18.3zM1578.3 769.9l9.15 15.85h-18.3zM1587.4 767.3l9.15 15.85h-18.3zM1596.6 764.7l9.15 15.85h-18.3zM1605.8 762.3l9.15 15.85h-18.3zM1615.0 760.0l9.15 15.85h-18.3zM1615.0 760.0l9.15 15.85h-18.3zM1611.0 768.6l9.15 15.85h-18.3zM1606.8 777.1l9.15 15.85h-18.3zM1602.4 785.5l9.15 15.85h-18.3zM1597.9 793.9l9.15 15.85h-18.3zM1593.3 802.2l9.15 15.85h-18.3zM1588.6 810.4l9.15 15.85h-18.3zM1583.7 818.6l9.15 15.85h-18.3zM1578.8 826.7l9.15 15.85h-18.3zM1573.7 834.7l9.15 15.85h-18.3zM1568.6 842.7l9.15 15.85h-18.3zM1563.5 850.7l9.15 15.85h-18.3zM1558.3 858.7l9.15 15.85h-18.3zM1553.1 866.6l9.15 15.85h-18.3zM1547.8 874.5l9.15 15.85h-18.3zM1542.6 882.4l9.15 15.85h-18.3zM1537.2 890.3l9.15 15.85h-18.3zM1531.9 898.1l9.15 15.85h-18.3zM1526.5 906.0l9.15 15.85h-18.3zM1521.2 913.8l9.15 15.85h-18.3zM1515.7 921.6l9.15 15.85h-18.3zM1510.3 929.4l9.15 15.85h-18.3zM1504.9 937.2l9.15 15.85h-18.3zM1499.4 944.9l9.15 15.85h-18.3zM1493.9 952.7l9.15 15.85h-18.3zM1488.4 960.4l9.15 15.85h-18.3zM1482.9 968.1l9.15 15.85h-18.3zM1477.3 975.8l9.15 15.85h-18.3zM1471.6 983.4l9.15 15.85h-18.3zM1465.9 991.0l9.15 15.85h-18.3zM1460.0 998.5l9.15 15.85h-18.3zM1454.1 1005.9l9.15 15.85h-18.3zM1448.0 1013.2l9.15 15.85h-18.3zM1441.8 1020.4l9.15 15.85h-18.3zM1435.5 1027.4l9.15 15.85h-18.3zM1429.0 1034.4l9.15 15.85h-18.3zM1422.4 1041.2l9.15 15.85h-18.3zM1415.6 1047.8l9.15 15.85h-18.3zM1408.7 1054.3l9.15 15.85h-18.3zM1401.6 1060.7l9.15 15.85h-18.3zM1394.5 1066.9l9.15 15.85h-18.3zM1387.2 1073.0l9.15 15.85h-18.3zM1379.8 1079.0l9.15 15.85h-18.3zM1372.4 1084.9l9.15 15.85h-18.3zM1364.9 1090.7l9.15 15.85h-18.3zM1357.2 1096.3l9.15 15.85h-18.3zM1349.5 1101.9l9.15 15.85h-18.3zM1341.8 1107.4l9.15 15.85h-18.3zM1333.9 1112.7l9.15 15.85h-18.3zM1326.0 1118.0l9.15 15.85h-18.3zM1318.0 1123.1l9.15 15.85h-18.3zM1310.0 1128.1l9.15 15.85h-18.3zM1301.9 1133.1l9.15 15.85h-18.3zM1293.7 1137.9l9.15 15.85h-18.3zM1285.5 1142.7l9.15 15.85h-18.3zM1277.2 1147.3l9.15 15.85h-18.3zM1268.9 1151.9l9.15 15.85h-18.3zM1260.5 1156.3l9.15 15.85h-18.3zM1252.1 1160.7l9.15 15.85h-18.3zM1243.6 1165.0l9.15 15.85h-18.3zM1235.1 1169.2l9.15 15.85h-18.3zM1226.5 1173.3l9.15 15.85h-18.3zM1217.9 1177.3l9.15 15.85h-18.3zM1209.3 1181.2l9.15 15.85h-18.3zM1200.6 1185.1l9.15 15.85h-18.3zM1191.9 1188.9l9.15 15.85h-18.3zM1183.1 1192.6l9.15 15.85h-18.3zM1174.4 1196.2l9.15 15.85h-18.3zM1165.5 1199.7l9.15 15.85h-18.3zM1156.7 1203.2l9.15 15.85h-18.3zM1147.8 1206.5l9.15 15.85h-18.3zM1138.9 1209.8l9.15 15.85h-18.3zM1130.0 1213.1l9.15 15.85h-18.3zM1121.0 1216.2l9.15 15.85h-18.3zM1112.1 1219.3l9.15 15.85h-18.3zM1103.1 1222.4l9.15 15.85h-18.3zM1094.0 1225.3l9.15 15.85h-18.3zM1085.0 1228.2l9.15 15.85h-18.3zM1075.9 1231.0l9.15 15.85h-18.3zM1066.8 1233.8l9.15 15.85h-18.3zM1057.7 1236.5l9.15 15.85h-18.3zM1048.6 1239.1l9.15 15.85h-18.3z" fill="#1A6FDF"/>
</g>
<rect x="979.6" y="734.7" width="710.9" height="572.7" fill="none" stroke="#000" stroke-width="2.6"/>
<path d="M979.6 1255.3h12M979.6 1203.3h6M979.6 1151.2h12M979.6 1099.1h6M979.6 1047.1h12M979.6 995.0h6M979.6 943.0h12M979.6 890.9h6M979.6 838.8h12M979.6 786.8h6M1157.3 1307.4v-12M1335.0 1307.4v-12M1512.8 1307.4v-12" stroke="#000" stroke-width="2.6" fill="none"/>
<text x="100.4" y="534.8" text-anchor="end" font-family="Liberation Serif, Times New Roman, serif" font-size="36">-400</text>
<text x="100.4" y="419.0" text-anchor="end" font-family="Liberation Serif, Times New Roman, serif" font-size="36">-200</text>
<text x="100.4" y="303.2" text-anchor="end" font-family="Liberation Serif, Times New Roman, serif" font-size="36">0</text>
<text x="100.4" y="187.5" text-anchor="end" font-family="Liberation Serif, Times New Roman, serif" font-size="36">200</text>
<text x="100.4" y="71.7" text-anchor="end" font-family="Liberation Serif, Times New Roman, serif" font-size="36">400</text>
<text x="112.3" y="623.0" text-anchor="middle" font-family="Liberation Serif, Times New Roman, serif" font-size="36">-0.02</text>
<text x="291.2" y="623.0" text-anchor="middle" font-family="Liberation Serif, Times New Roman, serif" font-size="36">-0.01</text>
<text x="470.1" y="623.0" text-anchor="middle" font-family="Liberation Serif, Times New Roman, serif" font-size="36">0.00</text>
<text x="648.9" y="623.0" text-anchor="middle" font-family="Liberation Serif, Times New Roman, serif" font-size="36">0.01</text>
<text x="827.8" y="623.0" text-anchor="middle" font-family="Liberation Serif, Times New Roman, serif" font-size="36">0.02</text>
<text x="6.5" y="25.3" font-family="Liberation Serif, Times New Roman, serif" font-size="36">(a)</text>
<path d="M139.2 26.3h14.6v14.6h-14.6z" fill="#515151"/>
<text x="197.0" y="45.7" font-family="Liberation Serif, Times New Roman, serif" font-size="36" stroke="#000" stroke-width="0.35"><tspan font-style="italic" font-weight="bold" font-family="DejaVu Serif" font-size="33">ε</tspan><tspan font-style="italic" font-size="25" dy="9" dx="-5.5">a</tspan><tspan dy="-9" dx="-2">=</tspan>1%</text>
<path d="M138.5 90.6a8.0 8.0 0 1 0 16.0 0a8.0 8.0 0 1 0 -16.0 0z" fill="#F14040"/>
<text x="197.0" y="102.7" font-family="Liberation Serif, Times New Roman, serif" font-size="36" stroke="#000" stroke-width="0.35"><tspan font-style="italic" font-weight="bold" font-family="DejaVu Serif" font-size="33">ε</tspan><tspan font-style="italic" font-size="25" dy="9" dx="-5.5">a</tspan><tspan dy="-9" dx="-2">=</tspan>1.2%</text>
<path d="M146.5 139.7l9.15 15.85h-18.3z" fill="#1A6FDF"/>
<text x="197.0" y="159.7" font-family="Liberation Serif, Times New Roman, serif" font-size="36" stroke="#000" stroke-width="0.35"><tspan font-style="italic" font-weight="bold" font-family="DejaVu Serif" font-size="33">ε</tspan><tspan font-style="italic" font-size="25" dy="9" dx="-5.5">a</tspan><tspan dy="-9" dx="-2">=</tspan>1.4%</text>
<path d="M137.3 196.7h18.3l-9.15 15.85z" fill="#37AD6B"/>
<text x="197.0" y="216.7" font-family="Liberation Serif, Times New Roman, serif" font-size="36" stroke="#000" stroke-width="0.35"><tspan font-style="italic" font-weight="bold" font-family="DejaVu Serif" font-size="33">ε</tspan><tspan font-style="italic" font-size="25" dy="9" dx="-5.5">a</tspan><tspan dy="-9" dx="-2">=</tspan>1.6%</text>
<text x="376.8" y="684.1" font-family="Liberation Serif, Times New Roman, serif" font-size="36"><tspan font-style="italic" font-weight="bold" font-family="DejaVu Serif" font-size="33">ε</tspan><tspan font-style="italic" font-size="25" dy="9" dx="-5.5">a</tspan><tspan dy="-9" font-size="35.5"> /(mm/mm)</tspan></text>
<text transform="translate(35.4,293) rotate(-90)" text-anchor="middle" font-family="Liberation Serif, Times New Roman, serif" font-size="36"><tspan font-style="italic">σ</tspan><tspan font-style="italic" font-size="25" dy="9">a</tspan><tspan dy="-9">/</tspan><tspan font-family="Noto Serif CJK SC, serif" dx="-13.5">（</tspan><tspan dx="15.2">MPa</tspan><tspan font-family="Noto Serif CJK SC, serif">）</tspan></text>
<text x="964.5" y="545.5" text-anchor="end" font-family="Liberation Serif, Times New Roman, serif" font-size="36">-400</text>
<text x="964.5" y="441.7" text-anchor="end" font-family="Liberation Serif, Times New Roman, serif" font-size="36">-200</text>
<text x="964.5" y="337.9" text-anchor="end" font-family="Liberation Serif, Times New Roman, serif" font-size="36">0</text>
<text x="964.5" y="234.0" text-anchor="end" font-family="Liberation Serif, Times New Roman, serif" font-size="36">200</text>
<text x="964.5" y="130.2" text-anchor="end" font-family="Liberation Serif, Times New Roman, serif" font-size="36">400</text>
<text x="964.5" y="26.4" text-anchor="end" font-family="Liberation Serif, Times New Roman, serif" font-size="36">600</text>
<text x="975.5" y="626.0" text-anchor="middle" font-family="Liberation Serif, Times New Roman, serif" font-size="36">-0.02</text>
<text x="1153.2" y="626.0" text-anchor="middle" font-family="Liberation Serif, Times New Roman, serif" font-size="36">-0.01</text>
<text x="1330.8" y="626.0" text-anchor="middle" font-family="Liberation Serif, Times New Roman, serif" font-size="36">0.00</text>
<text x="1508.5" y="626.0" text-anchor="middle" font-family="Liberation Serif, Times New Roman, serif" font-size="36">0.01</text>
<text x="1686.2" y="626.0" text-anchor="middle" font-family="Liberation Serif, Times New Roman, serif" font-size="36">0.02</text>
<text x="867.6" y="27" font-family="Liberation Serif, Times New Roman, serif" font-size="36">(b)</text>
<path d="M1023.7 37.6h14.6v14.6h-14.6z" fill="#515151"/>
<text x="1081.2" y="57.0" font-family="Liberation Serif, Times New Roman, serif" font-size="36" stroke="#000" stroke-width="0.35"><tspan font-style="italic" font-weight="bold" font-family="DejaVu Serif" font-size="33">ε</tspan><tspan font-style="italic" font-size="25" dy="9" dx="-5.5">a</tspan><tspan dy="-9" dx="-2">=</tspan>1%</text>
<path d="M1023.0 101.4a8.0 8.0 0 1 0 16.0 0a8.0 8.0 0 1 0 -16.0 0z" fill="#F14040"/>
<text x="1081.2" y="113.5" font-family="Liberation Serif, Times New Roman, serif" font-size="36" stroke="#000" stroke-width="0.35"><tspan font-style="italic" font-weight="bold" font-family="DejaVu Serif" font-size="33">ε</tspan><tspan font-style="italic" font-size="25" dy="9" dx="-5.5">a</tspan><tspan dy="-9" dx="-2">=</tspan>1.2%</text>
<path d="M1031.0 150.0l9.15 15.85h-18.3z" fill="#1A6FDF"/>
<text x="1081.2" y="170.0" font-family="Liberation Serif, Times New Roman, serif" font-size="36" stroke="#000" stroke-width="0.35"><tspan font-style="italic" font-weight="bold" font-family="DejaVu Serif" font-size="33">ε</tspan><tspan font-style="italic" font-size="25" dy="9" dx="-5.5">a</tspan><tspan dy="-9" dx="-2">=</tspan>1.4%</text>
<path d="M1021.9 206.5h18.3l-9.15 15.85z" fill="#37AD6B"/>
<text x="1081.2" y="226.5" font-family="Liberation Serif, Times New Roman, serif" font-size="36" stroke="#000" stroke-width="0.35"><tspan font-style="italic" font-weight="bold" font-family="DejaVu Serif" font-size="33">ε</tspan><tspan font-style="italic" font-size="25" dy="9" dx="-5.5">a</tspan><tspan dy="-9" dx="-2">=</tspan>1.6%</text>
<text x="1238" y="686" font-family="Liberation Serif, Times New Roman, serif" font-size="36"><tspan font-style="italic" font-weight="bold" font-family="DejaVu Serif" font-size="33">ε</tspan><tspan font-style="italic" font-size="25" dy="9" dx="-5.5">a</tspan><tspan dy="-9" font-size="35.5">/ (mm/mm)</tspan></text>
<text transform="translate(901.3,298) rotate(-90)" text-anchor="middle" font-family="Liberation Serif, Times New Roman, serif" font-size="36"><tspan font-style="italic">σ</tspan><tspan font-style="italic" font-size="25" dy="9">a</tspan><tspan dy="-9">/MPa</tspan></text>
<text x="93.0" y="1268.7" text-anchor="end" font-family="Liberation Serif, Times New Roman, serif" font-size="36">-400</text>
<text x="93.0" y="1162.4" text-anchor="end" font-family="Liberation Serif, Times New Roman, serif" font-size="36">-200</text>
<text x="93.0" y="1056.0" text-anchor="end" font-family="Liberation Serif, Times New Roman, serif" font-size="36">0</text>
<text x="93.0" y="949.6" text-anchor="end" font-family="Liberation Serif, Times New Roman, serif" font-size="36">200</text>
<text x="93.0" y="843.3" text-anchor="end" font-family="Liberation Serif, Times New Roman, serif" font-size="36">400</text>
<text x="93.0" y="736.9" text-anchor="end" font-family="Liberation Serif, Times New Roman, serif" font-size="36">600</text>
<text x="105.2" y="1351.3" text-anchor="middle" font-family="Liberation Serif, Times New Roman, serif" font-size="36">-0.02</text>
<text x="287.2" y="1351.3" text-anchor="middle" font-family="Liberation Serif, Times New Roman, serif" font-size="36">-0.01</text>
<text x="469.2" y="1351.3" text-anchor="middle" font-family="Liberation Serif, Times New Roman, serif" font-size="36">0.00</text>
<text x="651.2" y="1351.3" text-anchor="middle" font-family="Liberation Serif, Times New Roman, serif" font-size="36">0.01</text>
<text x="833.2" y="1351.3" text-anchor="middle" font-family="Liberation Serif, Times New Roman, serif" font-size="36">0.02</text>
<text x="-2" y="735" font-family="Liberation Serif, Times New Roman, serif" font-size="34">(c)</text>
<path d="M142.2 744.5h14.6v14.6h-14.6z" fill="#515151"/>
<text x="201.0" y="763.9" font-family="Liberation Serif, Times New Roman, serif" font-size="36" stroke="#000" stroke-width="0.35"><tspan font-style="italic" font-weight="bold" font-family="DejaVu Serif" font-size="33">ε</tspan><tspan font-style="italic" font-size="25" dy="9" dx="-5.5">a</tspan><tspan dy="-9" dx="-2">=</tspan>1%</text>
<path d="M141.5 808.8a8.0 8.0 0 1 0 16.0 0a8.0 8.0 0 1 0 -16.0 0z" fill="#F14040"/>
<text x="201.0" y="820.9" font-family="Liberation Serif, Times New Roman, serif" font-size="36" stroke="#000" stroke-width="0.35"><tspan font-style="italic" font-weight="bold" font-family="DejaVu Serif" font-size="33">ε</tspan><tspan font-style="italic" font-size="25" dy="9" dx="-5.5">a</tspan><tspan dy="-9" dx="-2">=</tspan>1.2%</text>
<path d="M149.5 857.9l9.15 15.85h-18.3z" fill="#1A6FDF"/>
<text x="201.0" y="877.9" font-family="Liberation Serif, Times New Roman, serif" font-size="36" stroke="#000" stroke-width="0.35"><tspan font-style="italic" font-weight="bold" font-family="DejaVu Serif" font-size="33">ε</tspan><tspan font-style="italic" font-size="25" dy="9" dx="-5.5">a</tspan><tspan dy="-9" dx="-2">=</tspan>1.4%</text>
<path d="M140.3 914.9h18.3l-9.15 15.85z" fill="#37AD6B"/>
<text x="201.0" y="934.9" font-family="Liberation Serif, Times New Roman, serif" font-size="36" stroke="#000" stroke-width="0.35"><tspan font-style="italic" font-weight="bold" font-family="DejaVu Serif" font-size="33">ε</tspan><tspan font-style="italic" font-size="25" dy="9" dx="-5.5">a</tspan><tspan dy="-9" dx="-2">=</tspan>1.6%</text>
<text x="374.8" y="1414" font-family="Liberation Serif, Times New Roman, serif" font-size="36"><tspan font-style="italic" font-weight="bold" font-family="DejaVu Serif" font-size="33">ε</tspan><tspan font-style="italic" font-size="25" dy="9" dx="-5.5">a</tspan><tspan dy="-9" font-size="35.5"> /(mm/mm)</tspan></text>
<text transform="translate(40.5,1022) rotate(-90)" text-anchor="middle" font-family="Liberation Serif, Times New Roman, serif" font-size="36"><tspan font-style="italic">σ</tspan><tspan font-style="italic" font-size="25" dy="9">a</tspan><tspan dy="-9">/Mpa</tspan></text>
<text x="968.2" y="1265.6" text-anchor="end" font-family="Liberation Serif, Times New Roman, serif" font-size="36">-400</text>
<text x="968.2" y="1161.5" text-anchor="end" font-family="Liberation Serif, Times New Roman, serif" font-size="36">-200</text>
<text x="968.2" y="1057.4" text-anchor="end" font-family="Liberation Serif, Times New Roman, serif" font-size="36">0</text>
<text x="968.2" y="953.3" text-anchor="end" font-family="Liberation Serif, Times New Roman, serif" font-size="36">200</text>
<text x="968.2" y="849.1" text-anchor="end" font-family="Liberation Serif, Times New Roman, serif" font-size="36">400</text>
<text x="968.2" y="745.0" text-anchor="end" font-family="Liberation Serif, Times New Roman, serif" font-size="36">600</text>
<text x="979.6" y="1347.1" text-anchor="middle" font-family="Liberation Serif, Times New Roman, serif" font-size="36">-0.02</text>
<text x="1157.3" y="1347.1" text-anchor="middle" font-family="Liberation Serif, Times New Roman, serif" font-size="36">-0.01</text>
<text x="1335.0" y="1347.1" text-anchor="middle" font-family="Liberation Serif, Times New Roman, serif" font-size="36">0.00</text>
<text x="1512.8" y="1347.1" text-anchor="middle" font-family="Liberation Serif, Times New Roman, serif" font-size="36">0.01</text>
<text x="1690.5" y="1347.1" text-anchor="middle" font-family="Liberation Serif, Times New Roman, serif" font-size="36">0.02</text>
<text x="873.3" y="749" font-family="Liberation Serif, Times New Roman, serif" font-size="36">(d)</text>
<path d="M1013.2 749.0h14.6v14.6h-14.6z" fill="#515151"/>
<text x="1067.8" y="768.6" font-family="Liberation Serif, Times New Roman, serif" font-size="35.3" stroke="#000" stroke-width="0.55">H-charged for 0h</text>
<path d="M1012.5 799.8a8.0 8.0 0 1 0 16.0 0a8.0 8.0 0 1 0 -16.0 0z" fill="#F14040"/>
<text x="1067.8" y="812.1" font-family="Liberation Serif, Times New Roman, serif" font-size="35.3" stroke="#000" stroke-width="0.55">H-charged for 2h</text>
<path d="M1020.5 835.4l9.15 15.85h-18.3z" fill="#1A6FDF"/>
<text x="1067.8" y="855.6" font-family="Liberation Serif, Times New Roman, serif" font-size="35.3" stroke="#000" stroke-width="0.55">H-charged for 6h</text>
<text x="1242.5" y="1408.3" font-family="Liberation Serif, Times New Roman, serif" font-size="36"><tspan font-style="italic" font-weight="bold" font-family="DejaVu Serif" font-size="33">ε</tspan><tspan font-style="italic" font-size="25" dy="9" dx="-5.5">a</tspan><tspan dy="-9" font-size="35.5"> /(mm/mm)</tspan></text>
<text transform="translate(905.5,1025) rotate(-90)" text-anchor="middle" font-family="Liberation Serif, Times New Roman, serif" font-size="36"><tspan font-style="italic">σ</tspan><tspan font-style="italic" font-size="25" dy="9">a</tspan><tspan dy="-9">/MPa</tspan></text>
</svg>
</body></html>
